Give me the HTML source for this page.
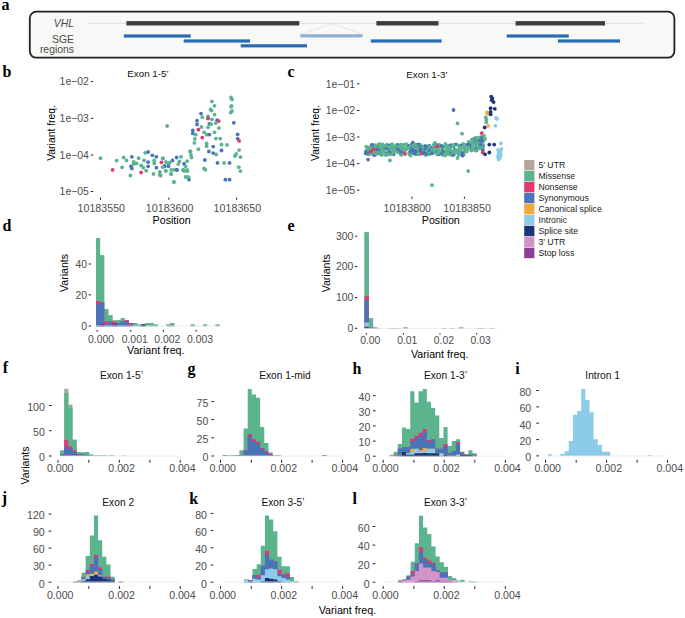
<!DOCTYPE html>
<html><head><meta charset="utf-8"><style>
html,body{margin:0;padding:0;background:#fff;width:685px;height:618px;overflow:hidden}
svg{display:block}
</style></head><body>
<svg width="685" height="618" viewBox="0 0 685 618">
<rect width="685" height="618" fill="#fff"/>
<text x="1.50" y="10.30" font-family="Liberation Serif, serif" font-size="16" text-anchor="start" fill="#000" font-weight="bold" font-style="normal" >a</text>
<rect x="29.8" y="11.7" width="644.6" height="46" rx="6.5" ry="6.5" fill="#f8f8f6" stroke="#222" stroke-width="1.8"/>
<text x="74.00" y="26.80" font-family="Liberation Sans, sans-serif" font-size="10.4" text-anchor="end" fill="#4a4a4a" font-weight="normal" font-style="italic" >VHL</text>
<text x="74.00" y="42.90" font-family="Liberation Sans, sans-serif" font-size="10.4" text-anchor="end" fill="#4a4a4a" font-weight="normal" font-style="normal" >SGE</text>
<text x="74.00" y="52.60" font-family="Liberation Sans, sans-serif" font-size="10.4" text-anchor="end" fill="#4a4a4a" font-weight="normal" font-style="normal" >regions</text>
<line x1="88.00" y1="23.30" x2="644.00" y2="23.30" stroke="#d8d8d8" stroke-width="0.8" />
<rect x="126.40" y="21.10" width="172.90" height="4.40" fill="#3d3d3d" />
<rect x="376.40" y="21.10" width="62.10" height="4.40" fill="#3d3d3d" />
<rect x="515.60" y="21.10" width="89.40" height="4.40" fill="#3d3d3d" />
<rect x="123.80" y="34.40" width="66.90" height="3.20" fill="#2b6cb0" />
<rect x="506.70" y="34.40" width="62.10" height="3.20" fill="#2b6cb0" />
<rect x="183.70" y="39.40" width="66.30" height="3.20" fill="#2b6cb0" />
<rect x="370.80" y="39.40" width="70.90" height="3.20" fill="#2b6cb0" />
<rect x="558.00" y="39.40" width="62.00" height="3.20" fill="#2b6cb0" />
<rect x="240.70" y="44.20" width="66.30" height="3.20" fill="#2b6cb0" />
<rect x="300.40" y="34.20" width="62.10" height="3.30" fill="#8fb2d6" />
<polyline points="300.5,34.3 332,23.6 362.3,34.3" fill="none" stroke="#c8c8c8" stroke-width="0.7" stroke-dasharray="1,1.2"/>
<text x="2.50" y="76.80" font-family="Liberation Serif, serif" font-size="16" text-anchor="start" fill="#000" font-weight="bold" font-style="normal" >b</text>
<text x="148.00" y="76.50" font-family="Liberation Sans, sans-serif" font-size="9.8" text-anchor="middle" fill="#111" font-weight="normal" font-style="normal" >Exon 1-5’</text>
<text x="88.80" y="85.30" font-family="Liberation Sans, sans-serif" font-size="10.4" text-anchor="end" fill="#4d4d4d" font-weight="normal" font-style="normal" >1e−02</text>
<line x1="90.80" y1="81.60" x2="93.20" y2="81.60" stroke="#222" stroke-width="1.0" />
<text x="88.80" y="122.10" font-family="Liberation Sans, sans-serif" font-size="10.4" text-anchor="end" fill="#4d4d4d" font-weight="normal" font-style="normal" >1e−03</text>
<line x1="90.80" y1="118.40" x2="93.20" y2="118.40" stroke="#222" stroke-width="1.0" />
<text x="88.80" y="158.80" font-family="Liberation Sans, sans-serif" font-size="10.4" text-anchor="end" fill="#4d4d4d" font-weight="normal" font-style="normal" >1e−04</text>
<line x1="90.80" y1="155.10" x2="93.20" y2="155.10" stroke="#222" stroke-width="1.0" />
<text x="88.80" y="195.20" font-family="Liberation Sans, sans-serif" font-size="10.4" text-anchor="end" fill="#4d4d4d" font-weight="normal" font-style="normal" >1e−05</text>
<line x1="90.80" y1="191.50" x2="93.20" y2="191.50" stroke="#222" stroke-width="1.0" />
<line x1="100.50" y1="197.60" x2="100.50" y2="199.80" stroke="#222" stroke-width="1.0" />
<text x="101.30" y="212.00" font-family="Liberation Sans, sans-serif" font-size="10.7" text-anchor="middle" fill="#4d4d4d" font-weight="normal" font-style="normal" >10183550</text>
<line x1="168.80" y1="197.60" x2="168.80" y2="199.80" stroke="#222" stroke-width="1.0" />
<text x="169.60" y="212.00" font-family="Liberation Sans, sans-serif" font-size="10.7" text-anchor="middle" fill="#4d4d4d" font-weight="normal" font-style="normal" >10183600</text>
<line x1="236.60" y1="197.60" x2="236.60" y2="199.80" stroke="#222" stroke-width="1.0" />
<text x="237.40" y="212.00" font-family="Liberation Sans, sans-serif" font-size="10.7" text-anchor="middle" fill="#4d4d4d" font-weight="normal" font-style="normal" >10183650</text>
<text x="171.60" y="223.80" font-family="Liberation Sans, sans-serif" font-size="10.7" text-anchor="middle" fill="#000" font-weight="normal" font-style="normal" >Position</text>
<text x="0.00" y="0.00" font-family="Liberation Sans, sans-serif" font-size="10.4" text-anchor="middle" fill="#000" font-weight="normal" font-style="normal" transform="translate(55.3,132.9) rotate(-90)">Variant freq.</text>
<circle cx="100.50" cy="158.20" r="1.9" fill="#5bb48e"/>
<circle cx="116.70" cy="160.70" r="1.9" fill="#5bb48e"/>
<circle cx="112.60" cy="169.90" r="1.9" fill="#e2376f"/>
<circle cx="122.10" cy="167.30" r="1.9" fill="#5bb48e"/>
<circle cx="123.60" cy="157.50" r="1.9" fill="#5bb48e"/>
<circle cx="126.50" cy="160.40" r="1.9" fill="#5bb48e"/>
<circle cx="131.90" cy="156.80" r="1.9" fill="#4a73b8"/>
<circle cx="130.90" cy="166.30" r="1.9" fill="#4a73b8"/>
<circle cx="131.90" cy="168.50" r="1.9" fill="#4a73b8"/>
<circle cx="133.80" cy="161.90" r="1.9" fill="#5bb48e"/>
<circle cx="136.70" cy="163.40" r="1.9" fill="#5bb48e"/>
<circle cx="138.60" cy="158.20" r="1.9" fill="#5bb48e"/>
<circle cx="133.50" cy="164.00" r="1.9" fill="#5bb48e"/>
<circle cx="130.40" cy="175.50" r="1.9" fill="#5bb48e"/>
<circle cx="141.10" cy="165.50" r="1.9" fill="#5bb48e"/>
<circle cx="143.30" cy="167.70" r="1.9" fill="#5bb48e"/>
<circle cx="141.10" cy="172.40" r="1.9" fill="#e2376f"/>
<circle cx="146.20" cy="170.70" r="1.9" fill="#5bb48e"/>
<circle cx="145.20" cy="152.80" r="1.9" fill="#5bb48e"/>
<circle cx="148.10" cy="152.00" r="1.9" fill="#4a73b8"/>
<circle cx="152.30" cy="155.30" r="1.9" fill="#4a73b8"/>
<circle cx="156.40" cy="156.80" r="1.9" fill="#4a73b8"/>
<circle cx="144.00" cy="160.40" r="1.9" fill="#5bb48e"/>
<circle cx="148.10" cy="162.20" r="1.9" fill="#4a73b8"/>
<circle cx="148.10" cy="166.30" r="1.9" fill="#4a73b8"/>
<circle cx="154.20" cy="160.40" r="1.9" fill="#5bb48e"/>
<circle cx="154.20" cy="163.40" r="1.9" fill="#5bb48e"/>
<circle cx="156.40" cy="167.70" r="1.9" fill="#4a73b8"/>
<circle cx="153.50" cy="173.90" r="1.9" fill="#5bb48e"/>
<circle cx="159.80" cy="175.00" r="1.9" fill="#5bb48e"/>
<circle cx="159.80" cy="172.00" r="1.9" fill="#5bb48e"/>
<circle cx="161.40" cy="162.30" r="1.9" fill="#e2376f"/>
<circle cx="163.00" cy="158.20" r="1.9" fill="#5bb48e"/>
<circle cx="164.50" cy="166.30" r="1.9" fill="#4a73b8"/>
<circle cx="165.90" cy="161.90" r="1.9" fill="#5bb48e"/>
<circle cx="168.80" cy="163.40" r="1.9" fill="#5bb48e"/>
<circle cx="168.50" cy="166.30" r="1.9" fill="#4a73b8"/>
<circle cx="165.60" cy="170.70" r="1.9" fill="#5bb48e"/>
<circle cx="172.50" cy="160.40" r="1.9" fill="#4a73b8"/>
<circle cx="176.60" cy="157.50" r="1.9" fill="#4a73b8"/>
<circle cx="176.90" cy="169.90" r="1.9" fill="#4a73b8"/>
<circle cx="171.00" cy="173.60" r="1.9" fill="#5bb48e"/>
<circle cx="174.00" cy="182.10" r="1.9" fill="#5bb48e"/>
<circle cx="181.00" cy="156.80" r="1.9" fill="#5bb48e"/>
<circle cx="178.30" cy="164.10" r="1.9" fill="#5bb48e"/>
<circle cx="184.00" cy="163.80" r="1.9" fill="#4a73b8"/>
<circle cx="183.40" cy="169.90" r="1.9" fill="#5bb48e"/>
<circle cx="187.10" cy="169.90" r="1.9" fill="#5bb48e"/>
<circle cx="187.10" cy="161.20" r="1.9" fill="#5bb48e"/>
<circle cx="190.00" cy="151.50" r="1.9" fill="#5bb48e"/>
<circle cx="188.50" cy="177.20" r="1.9" fill="#5bb48e"/>
<circle cx="189.00" cy="179.60" r="1.9" fill="#4a73b8"/>
<circle cx="162.60" cy="158.70" r="1.9" fill="#5bb48e"/>
<circle cx="167.90" cy="163.20" r="1.9" fill="#5bb48e"/>
<circle cx="169.90" cy="162.60" r="1.9" fill="#5bb48e"/>
<circle cx="179.40" cy="161.30" r="1.9" fill="#5bb48e"/>
<circle cx="185.60" cy="166.30" r="1.9" fill="#5bb48e"/>
<circle cx="164.60" cy="165.90" r="1.9" fill="#4a73b8"/>
<circle cx="162.60" cy="167.20" r="1.9" fill="#5bb48e"/>
<circle cx="171.20" cy="169.80" r="1.9" fill="#5bb48e"/>
<circle cx="173.80" cy="169.80" r="1.9" fill="#5bb48e"/>
<circle cx="165.90" cy="171.10" r="1.9" fill="#5bb48e"/>
<circle cx="184.30" cy="171.10" r="1.9" fill="#5bb48e"/>
<circle cx="171.20" cy="174.20" r="1.9" fill="#5bb48e"/>
<circle cx="160.70" cy="175.50" r="1.9" fill="#5bb48e"/>
<circle cx="185.60" cy="177.00" r="1.9" fill="#5bb48e"/>
<circle cx="191.50" cy="157.60" r="1.9" fill="#5bb48e"/>
<circle cx="191.00" cy="155.00" r="1.9" fill="#5bb48e"/>
<circle cx="167.20" cy="126.00" r="1.9" fill="#5bb48e"/>
<circle cx="211.90" cy="101.40" r="1.9" fill="#5bb48e"/>
<circle cx="214.50" cy="105.80" r="1.9" fill="#5bb48e"/>
<circle cx="210.60" cy="109.30" r="1.9" fill="#5bb48e"/>
<circle cx="211.50" cy="110.60" r="1.9" fill="#5bb48e"/>
<circle cx="214.50" cy="114.60" r="1.9" fill="#5bb48e"/>
<circle cx="201.00" cy="113.60" r="1.9" fill="#4a73b8"/>
<circle cx="202.30" cy="117.20" r="1.9" fill="#5bb48e"/>
<circle cx="208.00" cy="116.50" r="1.9" fill="#5bb48e"/>
<circle cx="208.00" cy="118.50" r="1.9" fill="#e2376f"/>
<circle cx="211.90" cy="119.40" r="1.9" fill="#5bb48e"/>
<circle cx="197.00" cy="120.70" r="1.9" fill="#4a73b8"/>
<circle cx="197.00" cy="124.40" r="1.9" fill="#4a73b8"/>
<circle cx="217.20" cy="120.20" r="1.9" fill="#4a73b8"/>
<circle cx="218.70" cy="121.10" r="1.9" fill="#e2376f"/>
<circle cx="215.80" cy="123.10" r="1.9" fill="#5bb48e"/>
<circle cx="209.30" cy="123.80" r="1.9" fill="#4a73b8"/>
<circle cx="211.00" cy="124.20" r="1.9" fill="#5bb48e"/>
<circle cx="201.40" cy="127.00" r="1.9" fill="#5bb48e"/>
<circle cx="208.00" cy="127.30" r="1.9" fill="#5bb48e"/>
<circle cx="198.40" cy="129.70" r="1.9" fill="#e2376f"/>
<circle cx="218.90" cy="128.10" r="1.9" fill="#5bb48e"/>
<circle cx="192.80" cy="130.30" r="1.9" fill="#4a73b8"/>
<circle cx="192.80" cy="133.40" r="1.9" fill="#4a73b8"/>
<circle cx="195.70" cy="134.70" r="1.9" fill="#5bb48e"/>
<circle cx="204.00" cy="132.30" r="1.9" fill="#5bb48e"/>
<circle cx="206.60" cy="134.70" r="1.9" fill="#5bb48e"/>
<circle cx="209.30" cy="134.70" r="1.9" fill="#4a73b8"/>
<circle cx="214.50" cy="132.30" r="1.9" fill="#5bb48e"/>
<circle cx="202.30" cy="137.60" r="1.9" fill="#e2376f"/>
<circle cx="194.80" cy="138.90" r="1.9" fill="#5bb48e"/>
<circle cx="215.80" cy="138.60" r="1.9" fill="#5bb48e"/>
<circle cx="220.20" cy="138.60" r="1.9" fill="#5bb48e"/>
<circle cx="231.00" cy="97.50" r="1.9" fill="#5bb48e"/>
<circle cx="232.00" cy="99.50" r="1.9" fill="#5bb48e"/>
<circle cx="231.60" cy="106.00" r="1.9" fill="#5bb48e"/>
<circle cx="231.00" cy="106.70" r="1.9" fill="#5bb48e"/>
<circle cx="232.00" cy="111.00" r="1.9" fill="#5bb48e"/>
<circle cx="230.70" cy="112.60" r="1.9" fill="#5bb48e"/>
<circle cx="233.80" cy="122.80" r="1.9" fill="#4a73b8"/>
<circle cx="237.60" cy="134.30" r="1.9" fill="#4a73b8"/>
<circle cx="237.60" cy="138.60" r="1.9" fill="#4a73b8"/>
<circle cx="239.10" cy="140.90" r="1.9" fill="#e2376f"/>
<circle cx="194.40" cy="142.90" r="1.9" fill="#5bb48e"/>
<circle cx="206.60" cy="143.50" r="1.9" fill="#5bb48e"/>
<circle cx="206.60" cy="146.20" r="1.9" fill="#5bb48e"/>
<circle cx="213.20" cy="146.60" r="1.9" fill="#4a73b8"/>
<circle cx="221.50" cy="144.50" r="1.9" fill="#5bb48e"/>
<circle cx="227.00" cy="144.90" r="1.9" fill="#5bb48e"/>
<circle cx="198.40" cy="149.20" r="1.9" fill="#5bb48e"/>
<circle cx="190.50" cy="151.40" r="1.9" fill="#5bb48e"/>
<circle cx="208.90" cy="151.40" r="1.9" fill="#4a73b8"/>
<circle cx="213.20" cy="153.10" r="1.9" fill="#4a73b8"/>
<circle cx="216.20" cy="154.40" r="1.9" fill="#5bb48e"/>
<circle cx="221.50" cy="150.50" r="1.9" fill="#4a73b8"/>
<circle cx="239.10" cy="150.10" r="1.9" fill="#5bb48e"/>
<circle cx="236.20" cy="154.00" r="1.9" fill="#5bb48e"/>
<circle cx="234.90" cy="156.00" r="1.9" fill="#5bb48e"/>
<circle cx="240.40" cy="157.10" r="1.9" fill="#5bb48e"/>
<circle cx="204.90" cy="160.00" r="1.9" fill="#4a73b8"/>
<circle cx="217.50" cy="162.90" r="1.9" fill="#4a73b8"/>
<circle cx="224.10" cy="162.90" r="1.9" fill="#5bb48e"/>
<circle cx="229.60" cy="162.90" r="1.9" fill="#4a73b8"/>
<circle cx="204.00" cy="168.50" r="1.9" fill="#5bb48e"/>
<circle cx="205.30" cy="169.80" r="1.9" fill="#5bb48e"/>
<circle cx="238.80" cy="167.20" r="1.9" fill="#5bb48e"/>
<circle cx="240.40" cy="171.10" r="1.9" fill="#5bb48e"/>
<circle cx="176.80" cy="169.80" r="1.9" fill="#4a73b8"/>
<circle cx="183.00" cy="169.80" r="1.9" fill="#5bb48e"/>
<circle cx="187.60" cy="171.10" r="1.9" fill="#5bb48e"/>
<circle cx="188.20" cy="177.30" r="1.9" fill="#5bb48e"/>
<circle cx="173.80" cy="182.00" r="1.9" fill="#5bb48e"/>
<circle cx="225.40" cy="179.70" r="1.9" fill="#4a73b8"/>
<circle cx="229.60" cy="179.70" r="1.9" fill="#4a73b8"/>
<text x="287.50" y="77.30" font-family="Liberation Serif, serif" font-size="16" text-anchor="start" fill="#000" font-weight="bold" font-style="normal" >c</text>
<text x="427.00" y="77.60" font-family="Liberation Sans, sans-serif" font-size="9.8" text-anchor="middle" fill="#111" font-weight="normal" font-style="normal" >Exon 1-3’</text>
<text x="355.00" y="87.50" font-family="Liberation Sans, sans-serif" font-size="10.4" text-anchor="end" fill="#4d4d4d" font-weight="normal" font-style="normal" >1e−01</text>
<line x1="357.00" y1="83.80" x2="359.40" y2="83.80" stroke="#222" stroke-width="1.0" />
<text x="355.00" y="114.20" font-family="Liberation Sans, sans-serif" font-size="10.4" text-anchor="end" fill="#4d4d4d" font-weight="normal" font-style="normal" >1e−02</text>
<line x1="357.00" y1="110.50" x2="359.40" y2="110.50" stroke="#222" stroke-width="1.0" />
<text x="355.00" y="140.70" font-family="Liberation Sans, sans-serif" font-size="10.4" text-anchor="end" fill="#4d4d4d" font-weight="normal" font-style="normal" >1e−03</text>
<line x1="357.00" y1="137.00" x2="359.40" y2="137.00" stroke="#222" stroke-width="1.0" />
<text x="355.00" y="167.30" font-family="Liberation Sans, sans-serif" font-size="10.4" text-anchor="end" fill="#4d4d4d" font-weight="normal" font-style="normal" >1e−04</text>
<line x1="357.00" y1="163.60" x2="359.40" y2="163.60" stroke="#222" stroke-width="1.0" />
<text x="355.00" y="193.90" font-family="Liberation Sans, sans-serif" font-size="10.4" text-anchor="end" fill="#4d4d4d" font-weight="normal" font-style="normal" >1e−05</text>
<line x1="357.00" y1="190.20" x2="359.40" y2="190.20" stroke="#222" stroke-width="1.0" />
<line x1="411.90" y1="196.60" x2="411.90" y2="198.80" stroke="#222" stroke-width="1.0" />
<text x="407.30" y="212.00" font-family="Liberation Sans, sans-serif" font-size="10.7" text-anchor="middle" fill="#4d4d4d" font-weight="normal" font-style="normal" >10183800</text>
<line x1="464.40" y1="196.60" x2="464.40" y2="198.80" stroke="#222" stroke-width="1.0" />
<text x="467.10" y="212.00" font-family="Liberation Sans, sans-serif" font-size="10.7" text-anchor="middle" fill="#4d4d4d" font-weight="normal" font-style="normal" >10183850</text>
<text x="440.80" y="223.80" font-family="Liberation Sans, sans-serif" font-size="10.7" text-anchor="middle" fill="#000" font-weight="normal" font-style="normal" >Position</text>
<text x="0.00" y="0.00" font-family="Liberation Sans, sans-serif" font-size="10.4" text-anchor="middle" fill="#000" font-weight="normal" font-style="normal" transform="translate(319,133) rotate(-90)">Variant freq.</text>
<circle cx="418.33" cy="154.17" r="1.9" fill="#5bb48e"/>
<circle cx="424.93" cy="146.03" r="1.9" fill="#5bb48e"/>
<circle cx="439.46" cy="145.04" r="1.9" fill="#5bb48e"/>
<circle cx="375.29" cy="151.63" r="1.9" fill="#5bb48e"/>
<circle cx="481.38" cy="138.73" r="1.9" fill="#5bb48e"/>
<circle cx="366.29" cy="146.54" r="1.9" fill="#5bb48e"/>
<circle cx="393.29" cy="149.10" r="1.9" fill="#5bb48e"/>
<circle cx="464.75" cy="150.38" r="1.9" fill="#5bb48e"/>
<circle cx="443.33" cy="147.06" r="1.9" fill="#e2376f"/>
<circle cx="482.99" cy="144.61" r="1.9" fill="#5bb48e"/>
<circle cx="391.83" cy="144.77" r="1.9" fill="#4a73b8"/>
<circle cx="412.15" cy="148.25" r="1.9" fill="#4a73b8"/>
<circle cx="465.33" cy="145.16" r="1.9" fill="#4a73b8"/>
<circle cx="420.43" cy="144.95" r="1.9" fill="#5bb48e"/>
<circle cx="373.19" cy="152.56" r="1.9" fill="#5bb48e"/>
<circle cx="374.87" cy="154.60" r="1.9" fill="#4a73b8"/>
<circle cx="378.54" cy="145.11" r="1.9" fill="#5bb48e"/>
<circle cx="459.35" cy="150.15" r="1.9" fill="#5bb48e"/>
<circle cx="387.19" cy="145.44" r="1.9" fill="#5bb48e"/>
<circle cx="378.36" cy="146.34" r="1.9" fill="#5bb48e"/>
<circle cx="480.04" cy="139.37" r="1.9" fill="#4a73b8"/>
<circle cx="389.57" cy="153.40" r="1.9" fill="#5bb48e"/>
<circle cx="376.44" cy="150.21" r="1.9" fill="#4a73b8"/>
<circle cx="403.65" cy="144.81" r="1.9" fill="#5bb48e"/>
<circle cx="433.85" cy="150.61" r="1.9" fill="#5bb48e"/>
<circle cx="418.43" cy="152.51" r="1.9" fill="#5bb48e"/>
<circle cx="432.87" cy="150.45" r="1.9" fill="#4a73b8"/>
<circle cx="461.82" cy="146.09" r="1.9" fill="#4a73b8"/>
<circle cx="476.41" cy="150.52" r="1.9" fill="#4a73b8"/>
<circle cx="436.32" cy="145.14" r="1.9" fill="#5bb48e"/>
<circle cx="479.06" cy="145.97" r="1.9" fill="#5bb48e"/>
<circle cx="462.52" cy="147.23" r="1.9" fill="#5bb48e"/>
<circle cx="450.22" cy="146.51" r="1.9" fill="#5bb48e"/>
<circle cx="465.94" cy="145.69" r="1.9" fill="#4a73b8"/>
<circle cx="388.77" cy="146.96" r="1.9" fill="#5bb48e"/>
<circle cx="371.69" cy="148.12" r="1.9" fill="#5bb48e"/>
<circle cx="380.16" cy="153.80" r="1.9" fill="#4a73b8"/>
<circle cx="442.67" cy="150.43" r="1.9" fill="#5bb48e"/>
<circle cx="368.67" cy="154.12" r="1.9" fill="#4a73b8"/>
<circle cx="479.07" cy="144.92" r="1.9" fill="#5bb48e"/>
<circle cx="451.43" cy="154.99" r="1.9" fill="#5bb48e"/>
<circle cx="429.49" cy="153.90" r="1.9" fill="#4a73b8"/>
<circle cx="448.24" cy="154.07" r="1.9" fill="#5bb48e"/>
<circle cx="446.03" cy="151.61" r="1.9" fill="#4a73b8"/>
<circle cx="414.14" cy="153.50" r="1.9" fill="#5bb48e"/>
<circle cx="438.87" cy="150.41" r="1.9" fill="#5bb48e"/>
<circle cx="374.04" cy="154.93" r="1.9" fill="#4a73b8"/>
<circle cx="451.16" cy="152.09" r="1.9" fill="#5bb48e"/>
<circle cx="416.92" cy="144.92" r="1.9" fill="#4a73b8"/>
<circle cx="368.04" cy="150.01" r="1.9" fill="#5bb48e"/>
<circle cx="447.60" cy="150.76" r="1.9" fill="#4a73b8"/>
<circle cx="394.94" cy="147.31" r="1.9" fill="#5bb48e"/>
<circle cx="388.61" cy="153.96" r="1.9" fill="#5bb48e"/>
<circle cx="417.09" cy="146.75" r="1.9" fill="#5bb48e"/>
<circle cx="415.78" cy="154.06" r="1.9" fill="#4a73b8"/>
<circle cx="410.25" cy="147.48" r="1.9" fill="#5bb48e"/>
<circle cx="423.58" cy="153.34" r="1.9" fill="#4a73b8"/>
<circle cx="477.55" cy="138.52" r="1.9" fill="#5bb48e"/>
<circle cx="397.24" cy="148.55" r="1.9" fill="#5bb48e"/>
<circle cx="423.27" cy="153.23" r="1.9" fill="#4a73b8"/>
<circle cx="418.34" cy="144.35" r="1.9" fill="#4a73b8"/>
<circle cx="369.44" cy="150.66" r="1.9" fill="#5bb48e"/>
<circle cx="458.69" cy="145.49" r="1.9" fill="#5bb48e"/>
<circle cx="367.44" cy="147.83" r="1.9" fill="#5bb48e"/>
<circle cx="370.09" cy="149.28" r="1.9" fill="#5bb48e"/>
<circle cx="442.45" cy="154.54" r="1.9" fill="#4a73b8"/>
<circle cx="388.22" cy="145.97" r="1.9" fill="#5bb48e"/>
<circle cx="420.69" cy="145.97" r="1.9" fill="#5bb48e"/>
<circle cx="405.64" cy="149.72" r="1.9" fill="#5bb48e"/>
<circle cx="454.49" cy="152.71" r="1.9" fill="#4a73b8"/>
<circle cx="374.88" cy="154.74" r="1.9" fill="#4a73b8"/>
<circle cx="379.96" cy="150.88" r="1.9" fill="#4a73b8"/>
<circle cx="409.34" cy="153.67" r="1.9" fill="#4a73b8"/>
<circle cx="476.87" cy="145.98" r="1.9" fill="#5bb48e"/>
<circle cx="450.41" cy="151.06" r="1.9" fill="#4a73b8"/>
<circle cx="389.88" cy="160.43" r="1.9" fill="#5bb48e"/>
<circle cx="458.60" cy="154.01" r="1.9" fill="#4a73b8"/>
<circle cx="405.97" cy="148.85" r="1.9" fill="#5bb48e"/>
<circle cx="455.92" cy="144.31" r="1.9" fill="#4a73b8"/>
<circle cx="372.12" cy="145.90" r="1.9" fill="#5bb48e"/>
<circle cx="458.26" cy="145.64" r="1.9" fill="#5bb48e"/>
<circle cx="450.60" cy="151.58" r="1.9" fill="#4a73b8"/>
<circle cx="423.12" cy="148.15" r="1.9" fill="#5bb48e"/>
<circle cx="390.85" cy="147.19" r="1.9" fill="#4a73b8"/>
<circle cx="440.53" cy="153.28" r="1.9" fill="#5bb48e"/>
<circle cx="401.59" cy="153.30" r="1.9" fill="#4a73b8"/>
<circle cx="389.28" cy="154.28" r="1.9" fill="#5bb48e"/>
<circle cx="388.42" cy="149.53" r="1.9" fill="#5bb48e"/>
<circle cx="367.80" cy="149.27" r="1.9" fill="#5bb48e"/>
<circle cx="412.17" cy="150.19" r="1.9" fill="#5bb48e"/>
<circle cx="446.73" cy="149.93" r="1.9" fill="#5bb48e"/>
<circle cx="478.37" cy="142.58" r="1.9" fill="#5bb48e"/>
<circle cx="416.11" cy="153.91" r="1.9" fill="#5bb48e"/>
<circle cx="402.25" cy="150.80" r="1.9" fill="#4a73b8"/>
<circle cx="379.91" cy="144.25" r="1.9" fill="#5bb48e"/>
<circle cx="391.54" cy="147.54" r="1.9" fill="#5bb48e"/>
<circle cx="438.25" cy="152.04" r="1.9" fill="#5bb48e"/>
<circle cx="425.25" cy="146.18" r="1.9" fill="#5bb48e"/>
<circle cx="416.48" cy="148.55" r="1.9" fill="#5bb48e"/>
<circle cx="383.51" cy="150.94" r="1.9" fill="#5bb48e"/>
<circle cx="427.52" cy="154.00" r="1.9" fill="#5bb48e"/>
<circle cx="466.45" cy="150.94" r="1.9" fill="#4a73b8"/>
<circle cx="471.92" cy="143.32" r="1.9" fill="#4a73b8"/>
<circle cx="390.46" cy="151.13" r="1.9" fill="#5bb48e"/>
<circle cx="450.96" cy="145.07" r="1.9" fill="#4a73b8"/>
<circle cx="414.67" cy="145.39" r="1.9" fill="#5bb48e"/>
<circle cx="446.04" cy="146.21" r="1.9" fill="#4a73b8"/>
<circle cx="472.95" cy="143.98" r="1.9" fill="#5bb48e"/>
<circle cx="424.68" cy="149.53" r="1.9" fill="#4a73b8"/>
<circle cx="386.99" cy="145.17" r="1.9" fill="#5bb48e"/>
<circle cx="430.15" cy="150.26" r="1.9" fill="#5bb48e"/>
<circle cx="386.46" cy="153.24" r="1.9" fill="#4a73b8"/>
<circle cx="474.80" cy="138.39" r="1.9" fill="#4a73b8"/>
<circle cx="419.49" cy="147.60" r="1.9" fill="#5bb48e"/>
<circle cx="425.82" cy="150.61" r="1.9" fill="#5bb48e"/>
<circle cx="447.92" cy="145.99" r="1.9" fill="#5bb48e"/>
<circle cx="452.48" cy="146.15" r="1.9" fill="#5bb48e"/>
<circle cx="425.49" cy="153.83" r="1.9" fill="#4a73b8"/>
<circle cx="448.36" cy="146.70" r="1.9" fill="#5bb48e"/>
<circle cx="424.51" cy="146.54" r="1.9" fill="#4a73b8"/>
<circle cx="395.23" cy="149.26" r="1.9" fill="#4a73b8"/>
<circle cx="412.77" cy="142.56" r="1.9" fill="#4a73b8"/>
<circle cx="447.18" cy="152.42" r="1.9" fill="#5bb48e"/>
<circle cx="450.49" cy="147.76" r="1.9" fill="#5bb48e"/>
<circle cx="365.76" cy="151.81" r="1.9" fill="#5bb48e"/>
<circle cx="392.12" cy="147.67" r="1.9" fill="#5bb48e"/>
<circle cx="432.28" cy="148.29" r="1.9" fill="#e2376f"/>
<circle cx="440.93" cy="152.38" r="1.9" fill="#4a73b8"/>
<circle cx="367.22" cy="152.56" r="1.9" fill="#5bb48e"/>
<circle cx="412.29" cy="146.15" r="1.9" fill="#5bb48e"/>
<circle cx="376.22" cy="153.96" r="1.9" fill="#5bb48e"/>
<circle cx="424.93" cy="146.36" r="1.9" fill="#5bb48e"/>
<circle cx="482.92" cy="146.30" r="1.9" fill="#5bb48e"/>
<circle cx="435.61" cy="144.50" r="1.9" fill="#4a73b8"/>
<circle cx="383.53" cy="145.86" r="1.9" fill="#5bb48e"/>
<circle cx="437.23" cy="154.40" r="1.9" fill="#5bb48e"/>
<circle cx="427.18" cy="148.02" r="1.9" fill="#5bb48e"/>
<circle cx="442.46" cy="147.12" r="1.9" fill="#4a73b8"/>
<circle cx="399.73" cy="146.70" r="1.9" fill="#5bb48e"/>
<circle cx="383.13" cy="148.29" r="1.9" fill="#4a73b8"/>
<circle cx="453.56" cy="154.88" r="1.9" fill="#4a73b8"/>
<circle cx="373.25" cy="145.38" r="1.9" fill="#4a73b8"/>
<circle cx="393.50" cy="154.31" r="1.9" fill="#4a73b8"/>
<circle cx="420.23" cy="151.45" r="1.9" fill="#4a73b8"/>
<circle cx="436.33" cy="150.87" r="1.9" fill="#5bb48e"/>
<circle cx="388.74" cy="149.81" r="1.9" fill="#5bb48e"/>
<circle cx="417.20" cy="149.01" r="1.9" fill="#5bb48e"/>
<circle cx="433.79" cy="152.56" r="1.9" fill="#5bb48e"/>
<circle cx="483.22" cy="140.82" r="1.9" fill="#5bb48e"/>
<circle cx="470.73" cy="147.93" r="1.9" fill="#5bb48e"/>
<circle cx="396.81" cy="150.21" r="1.9" fill="#5bb48e"/>
<circle cx="439.84" cy="146.09" r="1.9" fill="#5bb48e"/>
<circle cx="481.09" cy="139.06" r="1.9" fill="#4a73b8"/>
<circle cx="369.20" cy="147.69" r="1.9" fill="#5bb48e"/>
<circle cx="438.68" cy="149.96" r="1.9" fill="#5bb48e"/>
<circle cx="374.79" cy="150.06" r="1.9" fill="#5bb48e"/>
<circle cx="408.91" cy="146.32" r="1.9" fill="#5bb48e"/>
<circle cx="453.13" cy="144.82" r="1.9" fill="#5bb48e"/>
<circle cx="460.79" cy="152.46" r="1.9" fill="#5bb48e"/>
<circle cx="415.00" cy="152.91" r="1.9" fill="#5bb48e"/>
<circle cx="442.29" cy="147.20" r="1.9" fill="#4a73b8"/>
<circle cx="474.08" cy="143.07" r="1.9" fill="#5bb48e"/>
<circle cx="468.65" cy="141.93" r="1.9" fill="#5bb48e"/>
<circle cx="422.20" cy="147.29" r="1.9" fill="#4a73b8"/>
<circle cx="373.55" cy="151.28" r="1.9" fill="#5bb48e"/>
<circle cx="400.65" cy="151.63" r="1.9" fill="#5bb48e"/>
<circle cx="381.51" cy="151.99" r="1.9" fill="#5bb48e"/>
<circle cx="378.47" cy="150.26" r="1.9" fill="#4a73b8"/>
<circle cx="476.35" cy="148.45" r="1.9" fill="#5bb48e"/>
<circle cx="460.06" cy="147.49" r="1.9" fill="#5bb48e"/>
<circle cx="475.73" cy="144.26" r="1.9" fill="#5bb48e"/>
<circle cx="407.73" cy="148.26" r="1.9" fill="#5bb48e"/>
<circle cx="431.59" cy="149.95" r="1.9" fill="#4a73b8"/>
<circle cx="431.47" cy="152.35" r="1.9" fill="#4a73b8"/>
<circle cx="397.99" cy="149.67" r="1.9" fill="#5bb48e"/>
<circle cx="432.03" cy="153.29" r="1.9" fill="#5bb48e"/>
<circle cx="460.21" cy="150.01" r="1.9" fill="#4a73b8"/>
<circle cx="374.50" cy="152.11" r="1.9" fill="#4a73b8"/>
<circle cx="374.58" cy="145.58" r="1.9" fill="#4a73b8"/>
<circle cx="441.73" cy="146.42" r="1.9" fill="#4a73b8"/>
<circle cx="426.56" cy="148.34" r="1.9" fill="#5bb48e"/>
<circle cx="479.72" cy="142.46" r="1.9" fill="#5bb48e"/>
<circle cx="450.29" cy="154.06" r="1.9" fill="#5bb48e"/>
<circle cx="462.82" cy="153.39" r="1.9" fill="#4a73b8"/>
<circle cx="463.73" cy="154.72" r="1.9" fill="#5bb48e"/>
<circle cx="449.00" cy="148.64" r="1.9" fill="#5bb48e"/>
<circle cx="381.90" cy="154.90" r="1.9" fill="#5bb48e"/>
<circle cx="384.45" cy="148.67" r="1.9" fill="#5bb48e"/>
<circle cx="479.90" cy="139.50" r="1.9" fill="#5bb48e"/>
<circle cx="441.61" cy="145.97" r="1.9" fill="#5bb48e"/>
<circle cx="419.09" cy="154.00" r="1.9" fill="#5bb48e"/>
<circle cx="377.43" cy="146.39" r="1.9" fill="#5bb48e"/>
<circle cx="449.85" cy="146.46" r="1.9" fill="#5bb48e"/>
<circle cx="397.95" cy="152.33" r="1.9" fill="#5bb48e"/>
<circle cx="429.74" cy="149.27" r="1.9" fill="#5bb48e"/>
<circle cx="470.10" cy="145.05" r="1.9" fill="#5bb48e"/>
<circle cx="429.63" cy="146.69" r="1.9" fill="#5bb48e"/>
<circle cx="477.25" cy="141.88" r="1.9" fill="#5bb48e"/>
<circle cx="425.88" cy="154.89" r="1.9" fill="#5bb48e"/>
<circle cx="392.78" cy="149.20" r="1.9" fill="#5bb48e"/>
<circle cx="459.32" cy="150.67" r="1.9" fill="#5bb48e"/>
<circle cx="383.17" cy="146.85" r="1.9" fill="#4a73b8"/>
<circle cx="425.92" cy="154.92" r="1.9" fill="#5bb48e"/>
<circle cx="428.11" cy="152.47" r="1.9" fill="#5bb48e"/>
<circle cx="462.25" cy="153.04" r="1.9" fill="#5bb48e"/>
<circle cx="396.62" cy="145.07" r="1.9" fill="#5bb48e"/>
<circle cx="420.27" cy="149.81" r="1.9" fill="#5bb48e"/>
<circle cx="466.52" cy="151.50" r="1.9" fill="#5bb48e"/>
<circle cx="473.59" cy="149.63" r="1.9" fill="#5bb48e"/>
<circle cx="429.16" cy="145.73" r="1.9" fill="#4a73b8"/>
<circle cx="401.56" cy="144.84" r="1.9" fill="#5bb48e"/>
<circle cx="420.10" cy="147.96" r="1.9" fill="#4a73b8"/>
<circle cx="377.08" cy="149.08" r="1.9" fill="#4a73b8"/>
<circle cx="463.24" cy="144.01" r="1.9" fill="#5bb48e"/>
<circle cx="448.99" cy="150.21" r="1.9" fill="#5bb48e"/>
<circle cx="365.75" cy="151.43" r="1.9" fill="#5bb48e"/>
<circle cx="399.06" cy="149.94" r="1.9" fill="#5bb48e"/>
<circle cx="404.65" cy="151.33" r="1.9" fill="#5bb48e"/>
<circle cx="388.29" cy="147.62" r="1.9" fill="#4a73b8"/>
<circle cx="431.47" cy="147.65" r="1.9" fill="#4a73b8"/>
<circle cx="375.48" cy="145.04" r="1.9" fill="#5bb48e"/>
<circle cx="448.79" cy="148.43" r="1.9" fill="#4a73b8"/>
<circle cx="435.04" cy="146.49" r="1.9" fill="#5bb48e"/>
<circle cx="379.27" cy="144.80" r="1.9" fill="#4a73b8"/>
<circle cx="415.31" cy="151.12" r="1.9" fill="#4a73b8"/>
<circle cx="462.21" cy="147.65" r="1.9" fill="#5bb48e"/>
<circle cx="366.34" cy="152.29" r="1.9" fill="#4a73b8"/>
<circle cx="458.47" cy="150.69" r="1.9" fill="#5bb48e"/>
<circle cx="403.89" cy="151.16" r="1.9" fill="#5bb48e"/>
<circle cx="409.44" cy="152.67" r="1.9" fill="#4a73b8"/>
<circle cx="437.26" cy="152.43" r="1.9" fill="#4a73b8"/>
<circle cx="429.74" cy="149.50" r="1.9" fill="#5bb48e"/>
<circle cx="449.40" cy="146.91" r="1.9" fill="#5bb48e"/>
<circle cx="449.63" cy="146.17" r="1.9" fill="#4a73b8"/>
<circle cx="439.13" cy="144.92" r="1.9" fill="#5bb48e"/>
<circle cx="433.10" cy="147.62" r="1.9" fill="#4a73b8"/>
<circle cx="407.48" cy="145.36" r="1.9" fill="#4a73b8"/>
<circle cx="380.64" cy="144.56" r="1.9" fill="#5bb48e"/>
<circle cx="395.96" cy="148.12" r="1.9" fill="#4a73b8"/>
<circle cx="461.78" cy="145.35" r="1.9" fill="#4a73b8"/>
<circle cx="398.84" cy="149.80" r="1.9" fill="#4a73b8"/>
<circle cx="386.58" cy="144.84" r="1.9" fill="#5bb48e"/>
<circle cx="385.93" cy="154.71" r="1.9" fill="#4a73b8"/>
<circle cx="442.85" cy="151.38" r="1.9" fill="#4a73b8"/>
<circle cx="409.92" cy="152.84" r="1.9" fill="#5bb48e"/>
<circle cx="388.24" cy="145.57" r="1.9" fill="#5bb48e"/>
<circle cx="432.27" cy="149.72" r="1.9" fill="#5bb48e"/>
<circle cx="432.10" cy="151.06" r="1.9" fill="#5bb48e"/>
<circle cx="444.35" cy="154.55" r="1.9" fill="#5bb48e"/>
<circle cx="420.42" cy="150.86" r="1.9" fill="#4a73b8"/>
<circle cx="454.71" cy="149.34" r="1.9" fill="#4a73b8"/>
<circle cx="464.25" cy="145.39" r="1.9" fill="#5bb48e"/>
<circle cx="472.22" cy="146.01" r="1.9" fill="#5bb48e"/>
<circle cx="472.11" cy="139.73" r="1.9" fill="#4a73b8"/>
<circle cx="471.62" cy="147.22" r="1.9" fill="#4a73b8"/>
<circle cx="400.77" cy="144.77" r="1.9" fill="#5bb48e"/>
<circle cx="417.69" cy="148.36" r="1.9" fill="#5bb48e"/>
<circle cx="447.19" cy="146.63" r="1.9" fill="#5bb48e"/>
<circle cx="411.57" cy="144.75" r="1.9" fill="#4a73b8"/>
<circle cx="479.51" cy="148.31" r="1.9" fill="#5bb48e"/>
<circle cx="460.33" cy="152.21" r="1.9" fill="#5bb48e"/>
<circle cx="472.01" cy="149.69" r="1.9" fill="#5bb48e"/>
<circle cx="428.47" cy="151.81" r="1.9" fill="#5bb48e"/>
<circle cx="393.53" cy="147.57" r="1.9" fill="#5bb48e"/>
<circle cx="471.02" cy="144.82" r="1.9" fill="#5bb48e"/>
<circle cx="434.18" cy="144.34" r="1.9" fill="#4a73b8"/>
<circle cx="401.13" cy="154.27" r="1.9" fill="#4a73b8"/>
<circle cx="420.74" cy="147.25" r="1.9" fill="#4a73b8"/>
<circle cx="471.22" cy="150.56" r="1.9" fill="#5bb48e"/>
<circle cx="420.73" cy="153.68" r="1.9" fill="#e2376f"/>
<circle cx="388.54" cy="146.11" r="1.9" fill="#4a73b8"/>
<circle cx="370.45" cy="152.13" r="1.9" fill="#5bb48e"/>
<circle cx="471.64" cy="145.42" r="1.9" fill="#4a73b8"/>
<circle cx="476.10" cy="137.94" r="1.9" fill="#5bb48e"/>
<circle cx="401.05" cy="146.16" r="1.9" fill="#5bb48e"/>
<circle cx="392.52" cy="152.70" r="1.9" fill="#5bb48e"/>
<circle cx="443.28" cy="147.40" r="1.9" fill="#5bb48e"/>
<circle cx="391.75" cy="154.19" r="1.9" fill="#5bb48e"/>
<circle cx="397.44" cy="144.99" r="1.9" fill="#4a73b8"/>
<circle cx="416.90" cy="149.84" r="1.9" fill="#5bb48e"/>
<circle cx="435.86" cy="146.76" r="1.9" fill="#4a73b8"/>
<circle cx="374.87" cy="152.31" r="1.9" fill="#5bb48e"/>
<circle cx="397.71" cy="146.05" r="1.9" fill="#4a73b8"/>
<circle cx="482.04" cy="140.98" r="1.9" fill="#4a73b8"/>
<circle cx="410.28" cy="146.98" r="1.9" fill="#5bb48e"/>
<circle cx="441.25" cy="151.24" r="1.9" fill="#4a73b8"/>
<circle cx="425.99" cy="153.30" r="1.9" fill="#4a73b8"/>
<circle cx="426.44" cy="149.50" r="1.9" fill="#5bb48e"/>
<circle cx="457.28" cy="150.69" r="1.9" fill="#5bb48e"/>
<circle cx="416.91" cy="152.65" r="1.9" fill="#4a73b8"/>
<circle cx="392.58" cy="146.43" r="1.9" fill="#5bb48e"/>
<circle cx="423.88" cy="150.57" r="1.9" fill="#4a73b8"/>
<circle cx="432.64" cy="150.48" r="1.9" fill="#5bb48e"/>
<circle cx="423.54" cy="148.86" r="1.9" fill="#5bb48e"/>
<circle cx="459.52" cy="153.98" r="1.9" fill="#5bb48e"/>
<circle cx="429.15" cy="146.62" r="1.9" fill="#5bb48e"/>
<circle cx="401.51" cy="147.46" r="1.9" fill="#5bb48e"/>
<circle cx="427.03" cy="150.48" r="1.9" fill="#5bb48e"/>
<circle cx="462.15" cy="146.80" r="1.9" fill="#5bb48e"/>
<circle cx="446.69" cy="152.65" r="1.9" fill="#5bb48e"/>
<circle cx="413.36" cy="146.38" r="1.9" fill="#4a73b8"/>
<circle cx="369.51" cy="152.58" r="1.9" fill="#4a73b8"/>
<circle cx="381.70" cy="152.19" r="1.9" fill="#5bb48e"/>
<circle cx="393.13" cy="151.58" r="1.9" fill="#5bb48e"/>
<circle cx="411.26" cy="148.67" r="1.9" fill="#5bb48e"/>
<circle cx="368.58" cy="150.64" r="1.9" fill="#5bb48e"/>
<circle cx="394.63" cy="146.66" r="1.9" fill="#5bb48e"/>
<circle cx="475.46" cy="141.99" r="1.9" fill="#4a73b8"/>
<circle cx="437.20" cy="148.43" r="1.9" fill="#5bb48e"/>
<circle cx="371.46" cy="151.70" r="1.9" fill="#4a73b8"/>
<circle cx="434.79" cy="143.01" r="1.9" fill="#5bb48e"/>
<circle cx="411.26" cy="148.19" r="1.9" fill="#4a73b8"/>
<circle cx="390.13" cy="146.02" r="1.9" fill="#5bb48e"/>
<circle cx="384.00" cy="146.36" r="1.9" fill="#5bb48e"/>
<circle cx="401.22" cy="154.93" r="1.9" fill="#5bb48e"/>
<circle cx="467.16" cy="146.35" r="1.9" fill="#5bb48e"/>
<circle cx="446.77" cy="147.02" r="1.9" fill="#5bb48e"/>
<circle cx="386.16" cy="148.32" r="1.9" fill="#4a73b8"/>
<circle cx="449.61" cy="147.97" r="1.9" fill="#5bb48e"/>
<circle cx="475.96" cy="147.97" r="1.9" fill="#4a73b8"/>
<circle cx="472.44" cy="143.17" r="1.9" fill="#5bb48e"/>
<circle cx="374.40" cy="146.37" r="1.9" fill="#5bb48e"/>
<circle cx="371.03" cy="146.88" r="1.9" fill="#5bb48e"/>
<circle cx="382.45" cy="144.35" r="1.9" fill="#5bb48e"/>
<circle cx="414.96" cy="145.50" r="1.9" fill="#4a73b8"/>
<circle cx="395.49" cy="151.33" r="1.9" fill="#5bb48e"/>
<circle cx="388.87" cy="151.84" r="1.9" fill="#5bb48e"/>
<circle cx="410.49" cy="155.61" r="1.9" fill="#5bb48e"/>
<circle cx="399.26" cy="146.37" r="1.9" fill="#5bb48e"/>
<circle cx="367.42" cy="150.92" r="1.9" fill="#4a73b8"/>
<circle cx="480.60" cy="144.88" r="1.9" fill="#4a73b8"/>
<circle cx="390.23" cy="151.33" r="1.9" fill="#4a73b8"/>
<circle cx="467.84" cy="149.12" r="1.9" fill="#5bb48e"/>
<circle cx="415.40" cy="144.66" r="1.9" fill="#5bb48e"/>
<circle cx="403.55" cy="147.08" r="1.9" fill="#5bb48e"/>
<circle cx="412.39" cy="145.83" r="1.9" fill="#5bb48e"/>
<circle cx="393.04" cy="147.76" r="1.9" fill="#5bb48e"/>
<circle cx="382.44" cy="151.72" r="1.9" fill="#5bb48e"/>
<circle cx="447.82" cy="148.31" r="1.9" fill="#5bb48e"/>
<circle cx="371.99" cy="144.60" r="1.9" fill="#5bb48e"/>
<circle cx="434.22" cy="147.58" r="1.9" fill="#5bb48e"/>
<circle cx="367.30" cy="153.99" r="1.9" fill="#5bb48e"/>
<circle cx="395.67" cy="146.05" r="1.9" fill="#5bb48e"/>
<circle cx="437.72" cy="146.09" r="1.9" fill="#4a73b8"/>
<circle cx="456.31" cy="150.83" r="1.9" fill="#5bb48e"/>
<circle cx="413.95" cy="153.13" r="1.9" fill="#4a73b8"/>
<circle cx="409.94" cy="153.48" r="1.9" fill="#5bb48e"/>
<circle cx="380.67" cy="147.39" r="1.9" fill="#5bb48e"/>
<circle cx="480.76" cy="137.27" r="1.9" fill="#5bb48e"/>
<circle cx="445.44" cy="144.01" r="1.9" fill="#5bb48e"/>
<circle cx="411.37" cy="149.43" r="1.9" fill="#5bb48e"/>
<circle cx="429.73" cy="150.17" r="1.9" fill="#4a73b8"/>
<circle cx="479.79" cy="140.15" r="1.9" fill="#4a73b8"/>
<circle cx="401.79" cy="151.65" r="1.9" fill="#4a73b8"/>
<circle cx="479.21" cy="137.54" r="1.9" fill="#5bb48e"/>
<circle cx="422.89" cy="148.06" r="1.9" fill="#5bb48e"/>
<circle cx="453.63" cy="146.61" r="1.9" fill="#5bb48e"/>
<circle cx="403.17" cy="149.65" r="1.9" fill="#5bb48e"/>
<circle cx="372.03" cy="145.12" r="1.9" fill="#4a73b8"/>
<circle cx="377.92" cy="152.49" r="1.9" fill="#5bb48e"/>
<circle cx="383.85" cy="150.41" r="1.9" fill="#5bb48e"/>
<circle cx="424.89" cy="148.32" r="1.9" fill="#4a73b8"/>
<circle cx="394.47" cy="147.60" r="1.9" fill="#5bb48e"/>
<circle cx="454.85" cy="153.11" r="1.9" fill="#5bb48e"/>
<circle cx="414.55" cy="150.85" r="1.9" fill="#4a73b8"/>
<circle cx="459.85" cy="148.15" r="1.9" fill="#5bb48e"/>
<circle cx="391.99" cy="144.15" r="1.9" fill="#5bb48e"/>
<circle cx="476.48" cy="142.94" r="1.9" fill="#5bb48e"/>
<circle cx="446.32" cy="150.95" r="1.9" fill="#5bb48e"/>
<circle cx="475.57" cy="150.31" r="1.9" fill="#5bb48e"/>
<circle cx="369.54" cy="152.27" r="1.9" fill="#4a73b8"/>
<circle cx="378.80" cy="144.29" r="1.9" fill="#5bb48e"/>
<circle cx="421.98" cy="147.40" r="1.9" fill="#4a73b8"/>
<circle cx="464.30" cy="147.73" r="1.9" fill="#5bb48e"/>
<circle cx="455.58" cy="151.40" r="1.9" fill="#5bb48e"/>
<circle cx="447.09" cy="152.80" r="1.9" fill="#5bb48e"/>
<circle cx="385.33" cy="154.27" r="1.9" fill="#5bb48e"/>
<circle cx="422.60" cy="147.56" r="1.9" fill="#5bb48e"/>
<circle cx="431.84" cy="150.88" r="1.9" fill="#5bb48e"/>
<circle cx="391.58" cy="148.02" r="1.9" fill="#5bb48e"/>
<circle cx="370.60" cy="153.87" r="1.9" fill="#5bb48e"/>
<circle cx="373.83" cy="149.32" r="1.9" fill="#e2376f"/>
<circle cx="388.56" cy="145.38" r="1.9" fill="#4a73b8"/>
<circle cx="411.62" cy="150.06" r="1.9" fill="#5bb48e"/>
<circle cx="438.64" cy="154.33" r="1.9" fill="#4a73b8"/>
<circle cx="482.82" cy="146.73" r="1.9" fill="#4a73b8"/>
<circle cx="385.43" cy="145.86" r="1.9" fill="#5bb48e"/>
<circle cx="373.38" cy="152.29" r="1.9" fill="#5bb48e"/>
<circle cx="425.70" cy="146.31" r="1.9" fill="#4a73b8"/>
<circle cx="365.81" cy="153.32" r="1.9" fill="#4a73b8"/>
<circle cx="452.01" cy="152.83" r="1.9" fill="#4a73b8"/>
<circle cx="455.86" cy="149.91" r="1.9" fill="#5bb48e"/>
<circle cx="477.60" cy="146.51" r="1.9" fill="#5bb48e"/>
<circle cx="472.75" cy="146.50" r="1.9" fill="#5bb48e"/>
<circle cx="410.72" cy="151.23" r="1.9" fill="#4a73b8"/>
<circle cx="407.90" cy="147.89" r="1.9" fill="#5bb48e"/>
<circle cx="472.21" cy="140.20" r="1.9" fill="#5bb48e"/>
<circle cx="452.75" cy="152.18" r="1.9" fill="#5bb48e"/>
<circle cx="445.45" cy="145.16" r="1.9" fill="#5bb48e"/>
<circle cx="406.19" cy="144.10" r="1.9" fill="#5bb48e"/>
<circle cx="412.50" cy="149.91" r="1.9" fill="#4a73b8"/>
<circle cx="388.86" cy="146.61" r="1.9" fill="#5bb48e"/>
<circle cx="482.01" cy="149.07" r="1.9" fill="#5bb48e"/>
<circle cx="413.08" cy="145.96" r="1.9" fill="#5bb48e"/>
<circle cx="445.09" cy="155.55" r="1.9" fill="#5bb48e"/>
<circle cx="386.33" cy="154.88" r="1.9" fill="#5bb48e"/>
<circle cx="440.03" cy="151.08" r="1.9" fill="#5bb48e"/>
<circle cx="437.84" cy="152.99" r="1.9" fill="#5bb48e"/>
<circle cx="432.06" cy="153.21" r="1.9" fill="#4a73b8"/>
<circle cx="418.43" cy="148.61" r="1.9" fill="#5bb48e"/>
<circle cx="391.87" cy="150.30" r="1.9" fill="#5bb48e"/>
<circle cx="368.33" cy="149.63" r="1.9" fill="#5bb48e"/>
<circle cx="435.25" cy="145.08" r="1.9" fill="#5bb48e"/>
<circle cx="420.27" cy="149.24" r="1.9" fill="#4a73b8"/>
<circle cx="482.24" cy="147.47" r="1.9" fill="#5bb48e"/>
<circle cx="482.32" cy="137.17" r="1.9" fill="#4a73b8"/>
<circle cx="441.76" cy="146.04" r="1.9" fill="#4a73b8"/>
<circle cx="459.42" cy="154.93" r="1.9" fill="#5bb48e"/>
<circle cx="468.04" cy="144.33" r="1.9" fill="#4a73b8"/>
<circle cx="418.53" cy="153.52" r="1.9" fill="#5bb48e"/>
<circle cx="368.10" cy="159.60" r="1.9" fill="#4a73b8"/>
<circle cx="453.50" cy="110.00" r="1.9" fill="#4a73b8"/>
<circle cx="457.50" cy="123.40" r="1.9" fill="#5bb48e"/>
<circle cx="462.00" cy="133.70" r="1.9" fill="#5bb48e"/>
<circle cx="468.20" cy="171.00" r="1.9" fill="#5bb48e"/>
<circle cx="432.00" cy="185.20" r="1.9" fill="#5bb48e"/>
<circle cx="491.20" cy="96.70" r="1.9" fill="#1f3478"/>
<circle cx="492.40" cy="98.50" r="1.9" fill="#1f3478"/>
<circle cx="491.80" cy="100.30" r="1.9" fill="#1f3478"/>
<circle cx="493.60" cy="102.10" r="1.9" fill="#1f3478"/>
<circle cx="490.60" cy="108.20" r="1.9" fill="#1f3478"/>
<circle cx="494.80" cy="108.80" r="1.9" fill="#1f3478"/>
<circle cx="486.90" cy="112.50" r="1.9" fill="#f3a83b"/>
<circle cx="487.50" cy="113.70" r="1.9" fill="#f3a83b"/>
<circle cx="490.60" cy="111.90" r="1.9" fill="#1f3478"/>
<circle cx="490.60" cy="114.30" r="1.9" fill="#1f3478"/>
<circle cx="485.70" cy="117.30" r="1.9" fill="#5bb48e"/>
<circle cx="486.30" cy="119.70" r="1.9" fill="#5bb48e"/>
<circle cx="486.30" cy="122.20" r="1.9" fill="#5bb48e"/>
<circle cx="488.10" cy="125.80" r="1.9" fill="#f3a83b"/>
<circle cx="484.70" cy="127.40" r="1.9" fill="#1f3478"/>
<circle cx="496.00" cy="117.90" r="1.9" fill="#8ccbea"/>
<circle cx="497.20" cy="119.10" r="1.9" fill="#8ccbea"/>
<circle cx="495.40" cy="125.80" r="1.9" fill="#8ccbea"/>
<circle cx="481.80" cy="133.10" r="1.9" fill="#e2376f"/>
<circle cx="484.00" cy="136.00" r="1.9" fill="#5bb48e"/>
<circle cx="485.00" cy="139.00" r="1.9" fill="#5bb48e"/>
<circle cx="489.30" cy="144.60" r="1.9" fill="#1f3478"/>
<circle cx="494.20" cy="144.60" r="1.9" fill="#1f3478"/>
<circle cx="500.90" cy="143.40" r="1.9" fill="#8ccbea"/>
<circle cx="483.00" cy="150.10" r="1.9" fill="#4a73b8"/>
<circle cx="482.70" cy="152.50" r="1.9" fill="#e2376f"/>
<circle cx="485.10" cy="154.30" r="1.9" fill="#1f3478"/>
<circle cx="489.30" cy="152.50" r="1.9" fill="#1f3478"/>
<circle cx="498.00" cy="150.00" r="1.9" fill="#8ccbea"/>
<circle cx="500.50" cy="151.50" r="1.9" fill="#8ccbea"/>
<circle cx="498.50" cy="153.50" r="1.9" fill="#8ccbea"/>
<circle cx="501.00" cy="155.00" r="1.9" fill="#8ccbea"/>
<circle cx="497.80" cy="156.50" r="1.9" fill="#8ccbea"/>
<circle cx="500.00" cy="158.00" r="1.9" fill="#8ccbea"/>
<circle cx="498.50" cy="159.50" r="1.9" fill="#8ccbea"/>
<circle cx="501.50" cy="149.00" r="1.9" fill="#8ccbea"/>
<circle cx="457.50" cy="158.00" r="1.9" fill="#5bb48e"/>
<circle cx="462.60" cy="153.10" r="1.9" fill="#4a73b8"/>
<circle cx="462.60" cy="155.60" r="1.9" fill="#4a73b8"/>
<circle cx="437.10" cy="146.40" r="1.9" fill="#e2376f"/>
<circle cx="371.00" cy="151.50" r="1.9" fill="#e2376f"/>
<circle cx="405.00" cy="154.00" r="1.9" fill="#e2376f"/>
<rect x="524.20" y="160.00" width="10.20" height="10.40" fill="#b5a69c" />
<text x="538.50" y="168.00" font-family="Liberation Sans, sans-serif" font-size="8.7" text-anchor="start" fill="#1a1a1a" font-weight="normal" font-style="normal" >5’ UTR</text>
<rect x="524.20" y="170.97" width="10.20" height="10.40" fill="#5bb48e" />
<text x="538.50" y="178.97" font-family="Liberation Sans, sans-serif" font-size="8.7" text-anchor="start" fill="#1a1a1a" font-weight="normal" font-style="normal" >Missense</text>
<rect x="524.20" y="181.94" width="10.20" height="10.40" fill="#e2376f" />
<text x="538.50" y="189.94" font-family="Liberation Sans, sans-serif" font-size="8.7" text-anchor="start" fill="#1a1a1a" font-weight="normal" font-style="normal" >Nonsense</text>
<rect x="524.20" y="192.91" width="10.20" height="10.40" fill="#4a73b8" />
<text x="538.50" y="200.91" font-family="Liberation Sans, sans-serif" font-size="8.7" text-anchor="start" fill="#1a1a1a" font-weight="normal" font-style="normal" >Synonymous</text>
<rect x="524.20" y="203.88" width="10.20" height="10.40" fill="#f3a83b" />
<text x="538.50" y="211.88" font-family="Liberation Sans, sans-serif" font-size="8.7" text-anchor="start" fill="#1a1a1a" font-weight="normal" font-style="normal" >Canonical splice</text>
<rect x="524.20" y="214.85" width="10.20" height="10.40" fill="#8ccbea" />
<text x="538.50" y="222.85" font-family="Liberation Sans, sans-serif" font-size="8.7" text-anchor="start" fill="#1a1a1a" font-weight="normal" font-style="normal" >Intronic</text>
<rect x="524.20" y="225.82" width="10.20" height="10.40" fill="#1f3478" />
<text x="538.50" y="233.82" font-family="Liberation Sans, sans-serif" font-size="8.7" text-anchor="start" fill="#1a1a1a" font-weight="normal" font-style="normal" >Splice site</text>
<rect x="524.20" y="236.79" width="10.20" height="10.40" fill="#d193c8" />
<text x="538.50" y="244.79" font-family="Liberation Sans, sans-serif" font-size="8.7" text-anchor="start" fill="#1a1a1a" font-weight="normal" font-style="normal" >3’ UTR</text>
<rect x="524.20" y="247.76" width="10.20" height="10.40" fill="#8c3f92" />
<text x="538.50" y="255.76" font-family="Liberation Sans, sans-serif" font-size="8.7" text-anchor="start" fill="#1a1a1a" font-weight="normal" font-style="normal" >Stop loss</text>
<text x="2.50" y="231.00" font-family="Liberation Serif, serif" font-size="16" text-anchor="start" fill="#000" font-weight="bold" font-style="normal" >d</text>
<path d="M96.00,326.20 L96.00,238.00 L100.12,238.00 L100.12,255.32 L104.24,255.32 L104.24,308.88 L108.36,308.88 L108.36,315.18 L112.48,315.18 L112.48,319.90 L116.60,319.90 L116.60,319.90 L120.72,319.90 L120.72,318.32 L124.84,318.32 L124.84,319.90 L128.96,319.90 L128.96,323.05 L133.08,323.05 L133.08,323.05 L137.20,323.05 L137.20,324.62 L141.32,324.62 L141.32,324.62 L145.44,324.62 L145.44,323.05 L149.56,323.05 L149.56,323.05 L153.68,323.05 L153.68,324.62 L157.80,324.62 L157.80,326.20 L161.92,326.20 L161.92,326.20 L166.04,326.20 L166.04,324.62 L170.16,324.62 L170.16,323.05 L174.28,323.05 L174.28,326.20 L178.40,326.20 L178.40,326.20 L182.52,326.20 L182.52,326.20 L186.64,326.20 L186.64,326.20 L190.76,326.20 L190.76,324.62 L194.88,324.62 L194.88,326.20 L199.00,326.20 L199.00,326.20 L203.12,326.20 L203.12,324.62 L207.24,324.62 L207.24,326.20 L211.36,326.20 L211.36,326.20 L215.48,326.20 L215.48,324.62 L219.60,324.62 L219.60,326.20 Z" fill="#b5a69c"/>
<path d="M96.00,326.20 L96.00,238.00 L100.12,238.00 L100.12,255.32 L104.24,255.32 L104.24,308.88 L108.36,308.88 L108.36,315.18 L112.48,315.18 L112.48,321.47 L116.60,321.47 L116.60,319.90 L120.72,319.90 L120.72,318.32 L124.84,318.32 L124.84,319.90 L128.96,319.90 L128.96,323.05 L133.08,323.05 L133.08,323.05 L137.20,323.05 L137.20,324.62 L141.32,324.62 L141.32,324.62 L145.44,324.62 L145.44,323.05 L149.56,323.05 L149.56,323.05 L153.68,323.05 L153.68,324.62 L157.80,324.62 L157.80,326.20 L161.92,326.20 L161.92,326.20 L166.04,326.20 L166.04,324.62 L170.16,324.62 L170.16,323.05 L174.28,323.05 L174.28,326.20 L178.40,326.20 L178.40,326.20 L182.52,326.20 L182.52,326.20 L186.64,326.20 L186.64,326.20 L190.76,326.20 L190.76,324.62 L194.88,324.62 L194.88,326.20 L199.00,326.20 L199.00,326.20 L203.12,326.20 L203.12,324.62 L207.24,324.62 L207.24,326.20 L211.36,326.20 L211.36,326.20 L215.48,326.20 L215.48,324.62 L219.60,324.62 L219.60,326.20 Z" fill="#5bb48e"/>
<path d="M96.00,326.20 L96.00,301.00 L100.12,301.00 L100.12,302.57 L104.24,302.57 L104.24,321.47 L108.36,321.47 L108.36,321.47 L112.48,321.47 L112.48,321.47 L116.60,321.47 L116.60,323.05 L120.72,323.05 L120.72,321.47 L124.84,321.47 L124.84,319.90 L128.96,319.90 L128.96,323.05 L133.08,323.05 L133.08,326.20 L137.20,326.20 L137.20,326.20 L141.32,326.20 L141.32,324.62 L145.44,324.62 L145.44,326.20 L149.56,326.20 L149.56,326.20 L153.68,326.20 L153.68,326.20 L157.80,326.20 L157.80,326.20 L161.92,326.20 L161.92,326.20 L166.04,326.20 L166.04,326.20 L170.16,326.20 L170.16,326.20 L174.28,326.20 L174.28,326.20 L178.40,326.20 L178.40,326.20 L182.52,326.20 L182.52,326.20 L186.64,326.20 L186.64,326.20 L190.76,326.20 L190.76,326.20 L194.88,326.20 L194.88,326.20 L199.00,326.20 L199.00,326.20 L203.12,326.20 L203.12,326.20 L207.24,326.20 L207.24,326.20 L211.36,326.20 L211.36,326.20 L215.48,326.20 L215.48,326.20 L219.60,326.20 L219.60,326.20 Z" fill="#e2376f"/>
<path d="M96.00,326.20 L96.00,304.15 L100.12,304.15 L100.12,302.57 L104.24,302.57 L104.24,324.62 L108.36,324.62 L108.36,321.47 L112.48,321.47 L112.48,323.05 L116.60,323.05 L116.60,323.05 L120.72,323.05 L120.72,321.47 L124.84,321.47 L124.84,321.47 L128.96,321.47 L128.96,324.62 L133.08,324.62 L133.08,326.20 L137.20,326.20 L137.20,326.20 L141.32,326.20 L141.32,324.62 L145.44,324.62 L145.44,326.20 L149.56,326.20 L149.56,326.20 L153.68,326.20 L153.68,326.20 L157.80,326.20 L157.80,326.20 L161.92,326.20 L161.92,326.20 L166.04,326.20 L166.04,326.20 L170.16,326.20 L170.16,326.20 L174.28,326.20 L174.28,326.20 L178.40,326.20 L178.40,326.20 L182.52,326.20 L182.52,326.20 L186.64,326.20 L186.64,326.20 L190.76,326.20 L190.76,326.20 L194.88,326.20 L194.88,326.20 L199.00,326.20 L199.00,326.20 L203.12,326.20 L203.12,326.20 L207.24,326.20 L207.24,326.20 L211.36,326.20 L211.36,326.20 L215.48,326.20 L215.48,326.20 L219.60,326.20 L219.60,326.20 Z" fill="#4a73b8"/>
<path d="M96.00,326.20 L96.00,326.20 L100.12,326.20 L100.12,324.62 L104.24,324.62 L104.24,326.20 L108.36,326.20 L108.36,326.20 L112.48,326.20 L112.48,323.05 L116.60,323.05 L116.60,326.20 L120.72,326.20 L120.72,326.20 L124.84,326.20 L124.84,326.20 L128.96,326.20 L128.96,326.20 L133.08,326.20 L133.08,326.20 L137.20,326.20 L137.20,326.20 L141.32,326.20 L141.32,324.62 L145.44,324.62 L145.44,326.20 L149.56,326.20 L149.56,326.20 L153.68,326.20 L153.68,326.20 L157.80,326.20 L157.80,326.20 L161.92,326.20 L161.92,326.20 L166.04,326.20 L166.04,326.20 L170.16,326.20 L170.16,326.20 L174.28,326.20 L174.28,326.20 L178.40,326.20 L178.40,326.20 L182.52,326.20 L182.52,326.20 L186.64,326.20 L186.64,326.20 L190.76,326.20 L190.76,326.20 L194.88,326.20 L194.88,326.20 L199.00,326.20 L199.00,326.20 L203.12,326.20 L203.12,326.20 L207.24,326.20 L207.24,326.20 L211.36,326.20 L211.36,326.20 L215.48,326.20 L215.48,326.20 L219.60,326.20 L219.60,326.20 Z" fill="#1f3478"/>
<path d="M96.00,326.20 L96.00,326.20 L100.12,326.20 L100.12,324.62 L104.24,324.62 L104.24,326.20 L108.36,326.20 L108.36,326.20 L112.48,326.20 L112.48,323.05 L116.60,323.05 L116.60,326.20 L120.72,326.20 L120.72,326.20 L124.84,326.20 L124.84,326.20 L128.96,326.20 L128.96,326.20 L133.08,326.20 L133.08,326.20 L137.20,326.20 L137.20,326.20 L141.32,326.20 L141.32,326.20 L145.44,326.20 L145.44,326.20 L149.56,326.20 L149.56,326.20 L153.68,326.20 L153.68,326.20 L157.80,326.20 L157.80,326.20 L161.92,326.20 L161.92,326.20 L166.04,326.20 L166.04,326.20 L170.16,326.20 L170.16,326.20 L174.28,326.20 L174.28,326.20 L178.40,326.20 L178.40,326.20 L182.52,326.20 L182.52,326.20 L186.64,326.20 L186.64,326.20 L190.76,326.20 L190.76,326.20 L194.88,326.20 L194.88,326.20 L199.00,326.20 L199.00,326.20 L203.12,326.20 L203.12,326.20 L207.24,326.20 L207.24,326.20 L211.36,326.20 L211.36,326.20 L215.48,326.20 L215.48,326.20 L219.60,326.20 L219.60,326.20 Z" fill="#8c3f92"/>
<line x1="96.00" y1="326.00" x2="219.60" y2="326.00" stroke="#dfe6ea" stroke-width="0.8" />
<text x="87.00" y="267.70" font-family="Liberation Sans, sans-serif" font-size="10.4" text-anchor="end" fill="#4d4d4d" font-weight="normal" font-style="normal" >40</text>
<line x1="88.60" y1="264.00" x2="91.00" y2="264.00" stroke="#222" stroke-width="1.0" />
<text x="87.00" y="298.50" font-family="Liberation Sans, sans-serif" font-size="10.4" text-anchor="end" fill="#4d4d4d" font-weight="normal" font-style="normal" >20</text>
<line x1="88.60" y1="294.80" x2="91.00" y2="294.80" stroke="#222" stroke-width="1.0" />
<text x="87.00" y="329.70" font-family="Liberation Sans, sans-serif" font-size="10.4" text-anchor="end" fill="#4d4d4d" font-weight="normal" font-style="normal" >0</text>
<line x1="88.60" y1="326.00" x2="91.00" y2="326.00" stroke="#222" stroke-width="1.0" />
<line x1="97.10" y1="329.80" x2="97.10" y2="331.80" stroke="#222" stroke-width="1.0" />
<text x="101.00" y="343.00" font-family="Liberation Sans, sans-serif" font-size="10.4" text-anchor="middle" fill="#4d4d4d" font-weight="normal" font-style="normal" >0.000</text>
<line x1="130.80" y1="329.80" x2="130.80" y2="331.80" stroke="#222" stroke-width="1.0" />
<text x="134.70" y="343.00" font-family="Liberation Sans, sans-serif" font-size="10.4" text-anchor="middle" fill="#4d4d4d" font-weight="normal" font-style="normal" >0.001</text>
<line x1="163.40" y1="329.80" x2="163.40" y2="331.80" stroke="#222" stroke-width="1.0" />
<text x="167.30" y="343.00" font-family="Liberation Sans, sans-serif" font-size="10.4" text-anchor="middle" fill="#4d4d4d" font-weight="normal" font-style="normal" >0.002</text>
<line x1="196.20" y1="329.80" x2="196.20" y2="331.80" stroke="#222" stroke-width="1.0" />
<text x="200.10" y="343.00" font-family="Liberation Sans, sans-serif" font-size="10.4" text-anchor="middle" fill="#4d4d4d" font-weight="normal" font-style="normal" >0.003</text>
<text x="0.00" y="0.00" font-family="Liberation Sans, sans-serif" font-size="10.6" text-anchor="middle" fill="#000" font-weight="normal" font-style="normal" transform="translate(68.2,273) rotate(-90)">Variants</text>
<text x="155.80" y="353.60" font-family="Liberation Sans, sans-serif" font-size="10.7" text-anchor="middle" fill="#000" font-weight="normal" font-style="normal" >Variant freq.</text>
<text x="287.50" y="231.00" font-family="Liberation Serif, serif" font-size="16" text-anchor="start" fill="#000" font-weight="bold" font-style="normal" >e</text>
<path d="M364.50,328.30 L364.50,232.21 L368.80,232.21 L368.80,318.17 L373.10,318.17 L373.10,327.69 L377.40,327.69 L377.40,327.99 L381.70,327.99 L381.70,328.30 L386.00,328.30 L386.00,327.99 L390.30,327.99 L390.30,327.99 L394.60,327.99 L394.60,327.99 L398.90,327.99 L398.90,328.30 L403.20,328.30 L403.20,327.69 L407.50,327.69 L407.50,328.30 L411.80,328.30 L411.80,328.30 L416.10,328.30 L416.10,328.30 L420.40,328.30 L420.40,328.30 L424.70,328.30 L424.70,328.30 L429.00,328.30 L429.00,328.30 L433.30,328.30 L433.30,328.30 L437.60,328.30 L437.60,328.30 L441.90,328.30 L441.90,327.99 L446.20,327.99 L446.20,328.30 L450.50,328.30 L450.50,327.99 L454.80,327.99 L454.80,328.30 L459.10,328.30 L459.10,327.69 L463.40,327.69 L463.40,328.30 L467.70,328.30 L467.70,328.30 L472.00,328.30 L472.00,328.30 L476.30,328.30 L476.30,327.99 L480.60,327.99 L480.60,327.99 L484.90,327.99 L484.90,328.30 L489.20,328.30 L489.20,327.99 L493.50,327.99 L493.50,328.30 Z" fill="#b5a69c"/>
<path d="M364.50,328.30 L364.50,232.21 L368.80,232.21 L368.80,318.17 L373.10,318.17 L373.10,327.69 L377.40,327.69 L377.40,327.99 L381.70,327.99 L381.70,328.30 L386.00,328.30 L386.00,328.30 L390.30,328.30 L390.30,327.99 L394.60,327.99 L394.60,327.99 L398.90,327.99 L398.90,328.30 L403.20,328.30 L403.20,327.69 L407.50,327.69 L407.50,328.30 L411.80,328.30 L411.80,328.30 L416.10,328.30 L416.10,328.30 L420.40,328.30 L420.40,328.30 L424.70,328.30 L424.70,328.30 L429.00,328.30 L429.00,328.30 L433.30,328.30 L433.30,328.30 L437.60,328.30 L437.60,328.30 L441.90,328.30 L441.90,327.99 L446.20,327.99 L446.20,328.30 L450.50,328.30 L450.50,327.99 L454.80,327.99 L454.80,328.30 L459.10,328.30 L459.10,327.69 L463.40,327.69 L463.40,328.30 L467.70,328.30 L467.70,328.30 L472.00,328.30 L472.00,328.30 L476.30,328.30 L476.30,327.99 L480.60,327.99 L480.60,327.99 L484.90,327.99 L484.90,328.30 L489.20,328.30 L489.20,327.99 L493.50,327.99 L493.50,328.30 Z" fill="#5bb48e"/>
<path d="M364.50,328.30 L364.50,296.37 L368.80,296.37 L368.80,327.07 L373.10,327.07 L373.10,327.69 L377.40,327.69 L377.40,328.30 L381.70,328.30 L381.70,328.30 L386.00,328.30 L386.00,328.30 L390.30,328.30 L390.30,327.99 L394.60,327.99 L394.60,327.99 L398.90,327.99 L398.90,328.30 L403.20,328.30 L403.20,327.69 L407.50,327.69 L407.50,328.30 L411.80,328.30 L411.80,328.30 L416.10,328.30 L416.10,328.30 L420.40,328.30 L420.40,328.30 L424.70,328.30 L424.70,328.30 L429.00,328.30 L429.00,328.30 L433.30,328.30 L433.30,328.30 L437.60,328.30 L437.60,328.30 L441.90,328.30 L441.90,327.99 L446.20,327.99 L446.20,328.30 L450.50,328.30 L450.50,327.99 L454.80,327.99 L454.80,328.30 L459.10,328.30 L459.10,327.69 L463.40,327.69 L463.40,328.30 L467.70,328.30 L467.70,328.30 L472.00,328.30 L472.00,328.30 L476.30,328.30 L476.30,327.99 L480.60,327.99 L480.60,327.99 L484.90,327.99 L484.90,328.30 L489.20,328.30 L489.20,327.99 L493.50,327.99 L493.50,328.30 Z" fill="#e2376f"/>
<path d="M364.50,328.30 L364.50,300.36 L368.80,300.36 L368.80,327.07 L373.10,327.07 L373.10,327.69 L377.40,327.69 L377.40,328.30 L381.70,328.30 L381.70,328.30 L386.00,328.30 L386.00,328.30 L390.30,328.30 L390.30,327.99 L394.60,327.99 L394.60,327.99 L398.90,327.99 L398.90,328.30 L403.20,328.30 L403.20,327.69 L407.50,327.69 L407.50,328.30 L411.80,328.30 L411.80,328.30 L416.10,328.30 L416.10,328.30 L420.40,328.30 L420.40,328.30 L424.70,328.30 L424.70,328.30 L429.00,328.30 L429.00,328.30 L433.30,328.30 L433.30,328.30 L437.60,328.30 L437.60,328.30 L441.90,328.30 L441.90,327.99 L446.20,327.99 L446.20,328.30 L450.50,328.30 L450.50,327.99 L454.80,327.99 L454.80,328.30 L459.10,328.30 L459.10,327.69 L463.40,327.69 L463.40,328.30 L467.70,328.30 L467.70,328.30 L472.00,328.30 L472.00,328.30 L476.30,328.30 L476.30,327.99 L480.60,327.99 L480.60,327.99 L484.90,327.99 L484.90,328.30 L489.20,328.30 L489.20,327.99 L493.50,327.99 L493.50,328.30 Z" fill="#4a73b8"/>
<path d="M364.50,328.30 L364.50,322.77 L368.80,322.77 L368.80,327.07 L373.10,327.07 L373.10,328.30 L377.40,328.30 L377.40,328.30 L381.70,328.30 L381.70,328.30 L386.00,328.30 L386.00,328.30 L390.30,328.30 L390.30,327.99 L394.60,327.99 L394.60,328.30 L398.90,328.30 L398.90,328.30 L403.20,328.30 L403.20,328.30 L407.50,328.30 L407.50,328.30 L411.80,328.30 L411.80,328.30 L416.10,328.30 L416.10,328.30 L420.40,328.30 L420.40,328.30 L424.70,328.30 L424.70,328.30 L429.00,328.30 L429.00,328.30 L433.30,328.30 L433.30,328.30 L437.60,328.30 L437.60,328.30 L441.90,328.30 L441.90,328.30 L446.20,328.30 L446.20,328.30 L450.50,328.30 L450.50,328.30 L454.80,328.30 L454.80,328.30 L459.10,328.30 L459.10,328.30 L463.40,328.30 L463.40,328.30 L467.70,328.30 L467.70,328.30 L472.00,328.30 L472.00,328.30 L476.30,328.30 L476.30,328.30 L480.60,328.30 L480.60,328.30 L484.90,328.30 L484.90,328.30 L489.20,328.30 L489.20,328.30 L493.50,328.30 L493.50,328.30 Z" fill="#f3a83b"/>
<path d="M364.50,328.30 L364.50,322.77 L368.80,322.77 L368.80,327.07 L373.10,327.07 L373.10,328.30 L377.40,328.30 L377.40,328.30 L381.70,328.30 L381.70,328.30 L386.00,328.30 L386.00,328.30 L390.30,328.30 L390.30,328.30 L394.60,328.30 L394.60,328.30 L398.90,328.30 L398.90,328.30 L403.20,328.30 L403.20,328.30 L407.50,328.30 L407.50,328.30 L411.80,328.30 L411.80,328.30 L416.10,328.30 L416.10,328.30 L420.40,328.30 L420.40,328.30 L424.70,328.30 L424.70,328.30 L429.00,328.30 L429.00,328.30 L433.30,328.30 L433.30,328.30 L437.60,328.30 L437.60,328.30 L441.90,328.30 L441.90,328.30 L446.20,328.30 L446.20,328.30 L450.50,328.30 L450.50,328.30 L454.80,328.30 L454.80,328.30 L459.10,328.30 L459.10,328.30 L463.40,328.30 L463.40,328.30 L467.70,328.30 L467.70,328.30 L472.00,328.30 L472.00,328.30 L476.30,328.30 L476.30,328.30 L480.60,328.30 L480.60,328.30 L484.90,328.30 L484.90,328.30 L489.20,328.30 L489.20,328.30 L493.50,328.30 L493.50,328.30 Z" fill="#8ccbea"/>
<path d="M364.50,328.30 L364.50,326.76 L368.80,326.76 L368.80,327.38 L373.10,327.38 L373.10,328.30 L377.40,328.30 L377.40,328.30 L381.70,328.30 L381.70,328.30 L386.00,328.30 L386.00,328.30 L390.30,328.30 L390.30,328.30 L394.60,328.30 L394.60,328.30 L398.90,328.30 L398.90,328.30 L403.20,328.30 L403.20,328.30 L407.50,328.30 L407.50,328.30 L411.80,328.30 L411.80,328.30 L416.10,328.30 L416.10,328.30 L420.40,328.30 L420.40,328.30 L424.70,328.30 L424.70,328.30 L429.00,328.30 L429.00,328.30 L433.30,328.30 L433.30,328.30 L437.60,328.30 L437.60,328.30 L441.90,328.30 L441.90,328.30 L446.20,328.30 L446.20,328.30 L450.50,328.30 L450.50,328.30 L454.80,328.30 L454.80,328.30 L459.10,328.30 L459.10,328.30 L463.40,328.30 L463.40,328.30 L467.70,328.30 L467.70,328.30 L472.00,328.30 L472.00,328.30 L476.30,328.30 L476.30,328.30 L480.60,328.30 L480.60,328.30 L484.90,328.30 L484.90,328.30 L489.20,328.30 L489.20,328.30 L493.50,328.30 L493.50,328.30 Z" fill="#1f3478"/>
<line x1="364.50" y1="328.30" x2="497.00" y2="328.30" stroke="#dfe6ea" stroke-width="0.8" />
<text x="353.30" y="239.90" font-family="Liberation Sans, sans-serif" font-size="10.4" text-anchor="end" fill="#4d4d4d" font-weight="normal" font-style="normal" >300</text>
<line x1="354.90" y1="236.20" x2="357.30" y2="236.20" stroke="#222" stroke-width="1.0" />
<text x="353.30" y="270.30" font-family="Liberation Sans, sans-serif" font-size="10.4" text-anchor="end" fill="#4d4d4d" font-weight="normal" font-style="normal" >200</text>
<line x1="354.90" y1="266.60" x2="357.30" y2="266.60" stroke="#222" stroke-width="1.0" />
<text x="353.30" y="301.30" font-family="Liberation Sans, sans-serif" font-size="10.4" text-anchor="end" fill="#4d4d4d" font-weight="normal" font-style="normal" >100</text>
<line x1="354.90" y1="297.60" x2="357.30" y2="297.60" stroke="#222" stroke-width="1.0" />
<text x="353.30" y="332.00" font-family="Liberation Sans, sans-serif" font-size="10.4" text-anchor="end" fill="#4d4d4d" font-weight="normal" font-style="normal" >0</text>
<line x1="354.90" y1="328.30" x2="357.30" y2="328.30" stroke="#222" stroke-width="1.0" />
<line x1="366.40" y1="333.00" x2="366.40" y2="334.60" stroke="#222" stroke-width="1.0" />
<text x="370.30" y="343.60" font-family="Liberation Sans, sans-serif" font-size="10.4" text-anchor="middle" fill="#4d4d4d" font-weight="normal" font-style="normal" >0.00</text>
<line x1="403.40" y1="333.00" x2="403.40" y2="334.60" stroke="#222" stroke-width="1.0" />
<text x="407.30" y="343.60" font-family="Liberation Sans, sans-serif" font-size="10.4" text-anchor="middle" fill="#4d4d4d" font-weight="normal" font-style="normal" >0.01</text>
<line x1="440.00" y1="333.00" x2="440.00" y2="334.60" stroke="#222" stroke-width="1.0" />
<text x="443.90" y="343.60" font-family="Liberation Sans, sans-serif" font-size="10.4" text-anchor="middle" fill="#4d4d4d" font-weight="normal" font-style="normal" >0.02</text>
<line x1="476.70" y1="333.00" x2="476.70" y2="334.60" stroke="#222" stroke-width="1.0" />
<text x="480.60" y="343.60" font-family="Liberation Sans, sans-serif" font-size="10.4" text-anchor="middle" fill="#4d4d4d" font-weight="normal" font-style="normal" >0.03</text>
<text x="0.00" y="0.00" font-family="Liberation Sans, sans-serif" font-size="10.6" text-anchor="middle" fill="#000" font-weight="normal" font-style="normal" transform="translate(329.8,273.3) rotate(-90)">Variants</text>
<text x="439.70" y="358.00" font-family="Liberation Sans, sans-serif" font-size="10.7" text-anchor="middle" fill="#000" font-weight="normal" font-style="normal" >Variant freq.</text>
<text x="2.80" y="372.90" font-family="Liberation Serif, serif" font-size="16" text-anchor="start" fill="#000" font-weight="bold" font-style="normal" >f</text>
<text x="121.40" y="379.20" font-family="Liberation Sans, sans-serif" font-size="10.2" text-anchor="middle" fill="#111" font-weight="normal" font-style="normal" >Exon 1-5’</text>
<path d="M60.10,456.00 L60.10,450.44 L64.25,450.44 L64.25,388.83 L68.40,388.83 L68.40,404.49 L72.55,404.49 L72.55,439.84 L76.70,439.84 L76.70,451.96 L80.85,451.96 L80.85,452.46 L85.00,452.46 L85.00,451.96 L89.15,451.96 L89.15,454.49 L93.30,454.49 L93.30,455.50 L97.45,455.50 L97.45,455.50 L101.60,455.50 L101.60,455.50 L105.75,455.50 L105.75,455.50 L109.90,455.50 L109.90,455.50 L114.05,455.50 L114.05,456.00 L118.20,456.00 L118.20,456.00 L122.35,456.00 L122.35,455.50 L126.50,455.50 L126.50,456.00 Z" fill="#b5a69c"/>
<path d="M60.10,456.00 L60.10,450.44 L64.25,450.44 L64.25,392.88 L68.40,392.88 L68.40,407.52 L72.55,407.52 L72.55,439.84 L76.70,439.84 L76.70,451.96 L80.85,451.96 L80.85,452.46 L85.00,452.46 L85.00,451.96 L89.15,451.96 L89.15,454.49 L93.30,454.49 L93.30,455.50 L97.45,455.50 L97.45,455.50 L101.60,455.50 L101.60,455.50 L105.75,455.50 L105.75,456.00 L109.90,456.00 L109.90,455.50 L114.05,455.50 L114.05,456.00 L118.20,456.00 L118.20,456.00 L122.35,456.00 L122.35,456.00 L126.50,456.00 L126.50,456.00 Z" fill="#5bb48e"/>
<path d="M60.10,456.00 L60.10,453.98 L64.25,453.98 L64.25,439.84 L68.40,439.84 L68.40,446.40 L72.55,446.40 L72.55,450.44 L76.70,450.44 L76.70,453.98 L80.85,453.98 L80.85,454.49 L85.00,454.49 L85.00,454.99 L89.15,454.99 L89.15,456.00 L93.30,456.00 L93.30,456.00 L97.45,456.00 L97.45,456.00 L101.60,456.00 L101.60,456.00 L105.75,456.00 L105.75,456.00 L109.90,456.00 L109.90,456.00 L114.05,456.00 L114.05,456.00 L118.20,456.00 L118.20,456.00 L122.35,456.00 L122.35,456.00 L126.50,456.00 L126.50,456.00 Z" fill="#e2376f"/>
<path d="M60.10,456.00 L60.10,453.98 L64.25,453.98 L64.25,446.40 L68.40,446.40 L68.40,448.43 L72.55,448.43 L72.55,451.96 L76.70,451.96 L76.70,454.49 L80.85,454.49 L80.85,454.49 L85.00,454.49 L85.00,454.99 L89.15,454.99 L89.15,456.00 L93.30,456.00 L93.30,456.00 L97.45,456.00 L97.45,456.00 L101.60,456.00 L101.60,456.00 L105.75,456.00 L105.75,456.00 L109.90,456.00 L109.90,456.00 L114.05,456.00 L114.05,456.00 L118.20,456.00 L118.20,456.00 L122.35,456.00 L122.35,456.00 L126.50,456.00 L126.50,456.00 Z" fill="#4a73b8"/>
<line x1="60.00" y1="456.00" x2="179.00" y2="456.00" stroke="#dfe6ea" stroke-width="0.8" />
<text x="44.90" y="410.80" font-family="Liberation Sans, sans-serif" font-size="10.6" text-anchor="end" fill="#4d4d4d" font-weight="normal" font-style="normal" >100</text>
<line x1="49.00" y1="405.50" x2="51.70" y2="405.50" stroke="#222" stroke-width="1.0" />
<text x="44.90" y="436.00" font-family="Liberation Sans, sans-serif" font-size="10.6" text-anchor="end" fill="#4d4d4d" font-weight="normal" font-style="normal" >50</text>
<line x1="49.00" y1="430.70" x2="51.70" y2="430.70" stroke="#222" stroke-width="1.0" />
<text x="44.90" y="461.30" font-family="Liberation Sans, sans-serif" font-size="10.6" text-anchor="end" fill="#4d4d4d" font-weight="normal" font-style="normal" >0</text>
<line x1="49.00" y1="456.00" x2="51.70" y2="456.00" stroke="#222" stroke-width="1.0" />
<line x1="58.00" y1="459.90" x2="58.00" y2="462.70" stroke="#222" stroke-width="1.0" />
<text x="60.20" y="471.80" font-family="Liberation Sans, sans-serif" font-size="10.6" text-anchor="middle" fill="#4d4d4d" font-weight="normal" font-style="normal" >0.000</text>
<line x1="88.80" y1="459.90" x2="88.80" y2="462.70" stroke="#222" stroke-width="1.0" />
<line x1="119.40" y1="459.90" x2="119.40" y2="462.70" stroke="#222" stroke-width="1.0" />
<text x="121.60" y="471.80" font-family="Liberation Sans, sans-serif" font-size="10.6" text-anchor="middle" fill="#4d4d4d" font-weight="normal" font-style="normal" >0.002</text>
<line x1="149.90" y1="459.90" x2="149.90" y2="462.70" stroke="#222" stroke-width="1.0" />
<line x1="180.20" y1="459.90" x2="180.20" y2="462.70" stroke="#222" stroke-width="1.0" />
<text x="182.40" y="471.80" font-family="Liberation Sans, sans-serif" font-size="10.6" text-anchor="middle" fill="#4d4d4d" font-weight="normal" font-style="normal" >0.004</text>
<text x="187.50" y="373.50" font-family="Liberation Serif, serif" font-size="16" text-anchor="start" fill="#000" font-weight="bold" font-style="normal" >g</text>
<text x="285.00" y="379.20" font-family="Liberation Sans, sans-serif" font-size="10.2" text-anchor="middle" fill="#111" font-weight="normal" font-style="normal" >Exon 1-mid</text>
<path d="M222.80,456.00 L222.80,455.27 L226.95,455.27 L226.95,455.27 L231.10,455.27 L231.10,455.56 L235.25,455.56 L235.25,455.56 L239.40,455.56 L239.40,450.20 L243.55,450.20 L243.55,428.45 L247.70,428.45 L247.70,388.94 L251.85,388.94 L251.85,394.38 L256.00,394.38 L256.00,397.64 L260.15,397.64 L260.15,427.00 L264.30,427.00 L264.30,442.95 L268.45,442.95 L268.45,452.38 L272.60,452.38 L272.60,455.27 L276.75,455.27 L276.75,455.56 L280.90,455.56 L280.90,456.00 L285.05,456.00 L285.05,456.00 L289.20,456.00 L289.20,456.00 L293.35,456.00 L293.35,456.00 L297.50,456.00 L297.50,456.00 L301.65,456.00 L301.65,456.00 L305.80,456.00 L305.80,456.00 L309.95,456.00 L309.95,456.00 L314.10,456.00 L314.10,456.00 L318.25,456.00 L318.25,456.00 L322.40,456.00 L322.40,455.27 L326.55,455.27 L326.55,456.00 Z" fill="#5bb48e"/>
<path d="M222.80,456.00 L222.80,455.27 L226.95,455.27 L226.95,456.00 L231.10,456.00 L231.10,455.56 L235.25,455.56 L235.25,455.56 L239.40,455.56 L239.40,455.27 L243.55,455.27 L243.55,450.20 L247.70,450.20 L247.70,433.89 L251.85,433.89 L251.85,439.32 L256.00,439.32 L256.00,441.86 L260.15,441.86 L260.15,448.02 L264.30,448.02 L264.30,451.29 L268.45,451.29 L268.45,453.82 L272.60,453.82 L272.60,456.00 L276.75,456.00 L276.75,455.56 L280.90,455.56 L280.90,456.00 L285.05,456.00 L285.05,456.00 L289.20,456.00 L289.20,456.00 L293.35,456.00 L293.35,456.00 L297.50,456.00 L297.50,456.00 L301.65,456.00 L301.65,456.00 L305.80,456.00 L305.80,456.00 L309.95,456.00 L309.95,456.00 L314.10,456.00 L314.10,456.00 L318.25,456.00 L318.25,456.00 L322.40,456.00 L322.40,455.27 L326.55,455.27 L326.55,456.00 Z" fill="#e2376f"/>
<path d="M222.80,456.00 L222.80,455.27 L226.95,455.27 L226.95,456.00 L231.10,456.00 L231.10,455.56 L235.25,455.56 L235.25,455.56 L239.40,455.56 L239.40,455.27 L243.55,455.27 L243.55,450.20 L247.70,450.20 L247.70,436.43 L251.85,436.43 L251.85,441.50 L256.00,441.50 L256.00,444.04 L260.15,444.04 L260.15,448.75 L264.30,448.75 L264.30,452.74 L268.45,452.74 L268.45,454.55 L272.60,454.55 L272.60,456.00 L276.75,456.00 L276.75,455.56 L280.90,455.56 L280.90,456.00 L285.05,456.00 L285.05,456.00 L289.20,456.00 L289.20,456.00 L293.35,456.00 L293.35,456.00 L297.50,456.00 L297.50,456.00 L301.65,456.00 L301.65,456.00 L305.80,456.00 L305.80,456.00 L309.95,456.00 L309.95,456.00 L314.10,456.00 L314.10,456.00 L318.25,456.00 L318.25,456.00 L322.40,456.00 L322.40,455.27 L326.55,455.27 L326.55,456.00 Z" fill="#4a73b8"/>
<path d="M222.80,456.00 L222.80,456.00 L226.95,456.00 L226.95,456.00 L231.10,456.00 L231.10,455.56 L235.25,455.56 L235.25,455.56 L239.40,455.56 L239.40,455.27 L243.55,455.27 L243.55,456.00 L247.70,456.00 L247.70,456.00 L251.85,456.00 L251.85,456.00 L256.00,456.00 L256.00,456.00 L260.15,456.00 L260.15,456.00 L264.30,456.00 L264.30,456.00 L268.45,456.00 L268.45,456.00 L272.60,456.00 L272.60,456.00 L276.75,456.00 L276.75,455.56 L280.90,455.56 L280.90,456.00 L285.05,456.00 L285.05,456.00 L289.20,456.00 L289.20,456.00 L293.35,456.00 L293.35,456.00 L297.50,456.00 L297.50,456.00 L301.65,456.00 L301.65,456.00 L305.80,456.00 L305.80,456.00 L309.95,456.00 L309.95,456.00 L314.10,456.00 L314.10,456.00 L318.25,456.00 L318.25,456.00 L322.40,456.00 L322.40,456.00 L326.55,456.00 L326.55,456.00 Z" fill="#8ccbea"/>
<path d="M222.80,456.00 L222.80,456.00 L226.95,456.00 L226.95,456.00 L231.10,456.00 L231.10,456.00 L235.25,456.00 L235.25,455.56 L239.40,455.56 L239.40,455.27 L243.55,455.27 L243.55,456.00 L247.70,456.00 L247.70,456.00 L251.85,456.00 L251.85,456.00 L256.00,456.00 L256.00,456.00 L260.15,456.00 L260.15,456.00 L264.30,456.00 L264.30,456.00 L268.45,456.00 L268.45,456.00 L272.60,456.00 L272.60,456.00 L276.75,456.00 L276.75,456.00 L280.90,456.00 L280.90,456.00 L285.05,456.00 L285.05,456.00 L289.20,456.00 L289.20,456.00 L293.35,456.00 L293.35,456.00 L297.50,456.00 L297.50,456.00 L301.65,456.00 L301.65,456.00 L305.80,456.00 L305.80,456.00 L309.95,456.00 L309.95,456.00 L314.10,456.00 L314.10,456.00 L318.25,456.00 L318.25,456.00 L322.40,456.00 L322.40,456.00 L326.55,456.00 L326.55,456.00 Z" fill="#8c3f92"/>
<line x1="222.80" y1="456.00" x2="341.00" y2="456.00" stroke="#dfe6ea" stroke-width="0.8" />
<text x="208.30" y="406.90" font-family="Liberation Sans, sans-serif" font-size="10.6" text-anchor="end" fill="#4d4d4d" font-weight="normal" font-style="normal" >75</text>
<line x1="211.40" y1="401.60" x2="214.10" y2="401.60" stroke="#222" stroke-width="1.0" />
<text x="208.30" y="424.90" font-family="Liberation Sans, sans-serif" font-size="10.6" text-anchor="end" fill="#4d4d4d" font-weight="normal" font-style="normal" >50</text>
<line x1="211.40" y1="419.60" x2="214.10" y2="419.60" stroke="#222" stroke-width="1.0" />
<text x="208.30" y="443.10" font-family="Liberation Sans, sans-serif" font-size="10.6" text-anchor="end" fill="#4d4d4d" font-weight="normal" font-style="normal" >25</text>
<line x1="211.40" y1="437.80" x2="214.10" y2="437.80" stroke="#222" stroke-width="1.0" />
<text x="208.30" y="461.30" font-family="Liberation Sans, sans-serif" font-size="10.6" text-anchor="end" fill="#4d4d4d" font-weight="normal" font-style="normal" >0</text>
<line x1="211.40" y1="456.00" x2="214.10" y2="456.00" stroke="#222" stroke-width="1.0" />
<line x1="220.50" y1="459.90" x2="220.50" y2="462.70" stroke="#222" stroke-width="1.0" />
<text x="222.70" y="471.80" font-family="Liberation Sans, sans-serif" font-size="10.6" text-anchor="middle" fill="#4d4d4d" font-weight="normal" font-style="normal" >0.000</text>
<line x1="251.30" y1="459.90" x2="251.30" y2="462.70" stroke="#222" stroke-width="1.0" />
<line x1="281.60" y1="459.90" x2="281.60" y2="462.70" stroke="#222" stroke-width="1.0" />
<text x="283.80" y="471.80" font-family="Liberation Sans, sans-serif" font-size="10.6" text-anchor="middle" fill="#4d4d4d" font-weight="normal" font-style="normal" >0.002</text>
<line x1="312.10" y1="459.90" x2="312.10" y2="462.70" stroke="#222" stroke-width="1.0" />
<line x1="342.60" y1="459.90" x2="342.60" y2="462.70" stroke="#222" stroke-width="1.0" />
<text x="344.80" y="471.80" font-family="Liberation Sans, sans-serif" font-size="10.6" text-anchor="middle" fill="#4d4d4d" font-weight="normal" font-style="normal" >0.004</text>
<text x="352.50" y="374.00" font-family="Liberation Serif, serif" font-size="16" text-anchor="start" fill="#000" font-weight="bold" font-style="normal" >h</text>
<text x="445.50" y="379.20" font-family="Liberation Sans, sans-serif" font-size="10.2" text-anchor="middle" fill="#111" font-weight="normal" font-style="normal" >Exon 1-3’</text>
<path d="M389.50,456.20 L389.50,454.69 L393.65,454.69 L393.65,451.67 L397.80,451.67 L397.80,444.12 L401.95,444.12 L401.95,427.51 L406.10,427.51 L406.10,429.02 L410.25,429.02 L410.25,391.27 L414.40,391.27 L414.40,402.59 L418.55,402.59 L418.55,391.27 L422.70,391.27 L422.70,389.00 L426.85,389.00 L426.85,401.84 L431.00,401.84 L431.00,407.88 L435.15,407.88 L435.15,415.43 L439.30,415.43 L439.30,438.08 L443.45,438.08 L443.45,427.06 L447.60,427.06 L447.60,445.93 L451.75,445.93 L451.75,441.10 L455.90,441.10 L455.90,439.14 L460.05,439.14 L460.05,451.67 L464.20,451.67 L464.20,454.69 L468.35,454.69 L468.35,450.16 L472.50,450.16 L472.50,453.18 L476.65,453.18 L476.65,456.20 Z" fill="#5bb48e"/>
<path d="M389.50,456.20 L389.50,456.20 L393.65,456.20 L393.65,454.69 L397.80,454.69 L397.80,448.65 L401.95,448.65 L401.95,447.14 L406.10,447.14 L406.10,447.14 L410.25,447.14 L410.25,438.83 L414.40,438.83 L414.40,435.81 L418.55,435.81 L418.55,432.79 L422.70,432.79 L422.70,429.02 L426.85,429.02 L426.85,440.04 L431.00,440.04 L431.00,439.14 L435.15,439.14 L435.15,448.65 L439.30,448.65 L439.30,448.65 L443.45,448.65 L443.45,444.12 L447.60,444.12 L447.60,453.18 L451.75,453.18 L451.75,450.91 L455.90,450.91 L455.90,442.01 L460.05,442.01 L460.05,452.43 L464.20,452.43 L464.20,454.69 L468.35,454.69 L468.35,454.69 L472.50,454.69 L472.50,454.69 L476.65,454.69 L476.65,456.20 Z" fill="#e2376f"/>
<path d="M389.50,456.20 L389.50,456.20 L393.65,456.20 L393.65,456.20 L397.80,456.20 L397.80,448.65 L401.95,448.65 L401.95,447.14 L406.10,447.14 L406.10,447.14 L410.25,447.14 L410.25,441.85 L414.40,441.85 L414.40,438.08 L418.55,438.08 L418.55,435.81 L422.70,435.81 L422.70,432.04 L426.85,432.04 L426.85,442.01 L431.00,442.01 L431.00,439.14 L435.15,439.14 L435.15,448.65 L439.30,448.65 L439.30,448.65 L443.45,448.65 L443.45,446.38 L447.60,446.38 L447.60,453.18 L451.75,453.18 L451.75,450.91 L455.90,450.91 L455.90,444.12 L460.05,444.12 L460.05,452.43 L464.20,452.43 L464.20,454.69 L468.35,454.69 L468.35,454.69 L472.50,454.69 L472.50,454.69 L476.65,454.69 L476.65,456.20 Z" fill="#4a73b8"/>
<path d="M389.50,456.20 L389.50,456.20 L393.65,456.20 L393.65,456.20 L397.80,456.20 L397.80,456.20 L401.95,456.20 L401.95,451.67 L406.10,451.67 L406.10,453.18 L410.25,453.18 L410.25,448.65 L414.40,448.65 L414.40,448.65 L418.55,448.65 L418.55,450.16 L422.70,450.16 L422.70,447.89 L426.85,447.89 L426.85,448.65 L431.00,448.65 L431.00,448.65 L435.15,448.65 L435.15,453.18 L439.30,453.18 L439.30,453.18 L443.45,453.18 L443.45,454.69 L447.60,454.69 L447.60,456.20 L451.75,456.20 L451.75,456.20 L455.90,456.20 L455.90,454.69 L460.05,454.69 L460.05,454.69 L464.20,454.69 L464.20,454.69 L468.35,454.69 L468.35,454.69 L472.50,454.69 L472.50,456.20 L476.65,456.20 L476.65,456.20 Z" fill="#f3a83b"/>
<path d="M389.50,456.20 L389.50,456.20 L393.65,456.20 L393.65,456.20 L397.80,456.20 L397.80,456.20 L401.95,456.20 L401.95,451.67 L406.10,451.67 L406.10,453.18 L410.25,453.18 L410.25,451.67 L414.40,451.67 L414.40,448.65 L418.55,448.65 L418.55,451.67 L422.70,451.67 L422.70,450.91 L426.85,450.91 L426.85,448.65 L431.00,448.65 L431.00,448.65 L435.15,448.65 L435.15,453.18 L439.30,453.18 L439.30,453.18 L443.45,453.18 L443.45,454.69 L447.60,454.69 L447.60,456.20 L451.75,456.20 L451.75,456.20 L455.90,456.20 L455.90,454.69 L460.05,454.69 L460.05,454.69 L464.20,454.69 L464.20,454.69 L468.35,454.69 L468.35,454.69 L472.50,454.69 L472.50,456.20 L476.65,456.20 L476.65,456.20 Z" fill="#8ccbea"/>
<path d="M389.50,456.20 L389.50,456.20 L393.65,456.20 L393.65,456.20 L397.80,456.20 L397.80,456.20 L401.95,456.20 L401.95,451.67 L406.10,451.67 L406.10,454.69 L410.25,454.69 L410.25,454.69 L414.40,454.69 L414.40,453.18 L418.55,453.18 L418.55,453.18 L422.70,453.18 L422.70,452.88 L426.85,452.88 L426.85,453.18 L431.00,453.18 L431.00,453.18 L435.15,453.18 L435.15,453.18 L439.30,453.18 L439.30,456.20 L443.45,456.20 L443.45,454.69 L447.60,454.69 L447.60,456.20 L451.75,456.20 L451.75,456.20 L455.90,456.20 L455.90,456.20 L460.05,456.20 L460.05,454.69 L464.20,454.69 L464.20,454.69 L468.35,454.69 L468.35,454.69 L472.50,454.69 L472.50,456.20 L476.65,456.20 L476.65,456.20 Z" fill="#1f3478"/>
<line x1="389.50" y1="456.20" x2="505.00" y2="456.20" stroke="#dfe6ea" stroke-width="0.8" />
<text x="370.40" y="401.00" font-family="Liberation Sans, sans-serif" font-size="10.6" text-anchor="end" fill="#4d4d4d" font-weight="normal" font-style="normal" >40</text>
<line x1="373.00" y1="395.70" x2="375.70" y2="395.70" stroke="#222" stroke-width="1.0" />
<text x="370.40" y="416.10" font-family="Liberation Sans, sans-serif" font-size="10.6" text-anchor="end" fill="#4d4d4d" font-weight="normal" font-style="normal" >30</text>
<line x1="373.00" y1="410.80" x2="375.70" y2="410.80" stroke="#222" stroke-width="1.0" />
<text x="370.40" y="431.20" font-family="Liberation Sans, sans-serif" font-size="10.6" text-anchor="end" fill="#4d4d4d" font-weight="normal" font-style="normal" >20</text>
<line x1="373.00" y1="425.90" x2="375.70" y2="425.90" stroke="#222" stroke-width="1.0" />
<text x="370.40" y="446.40" font-family="Liberation Sans, sans-serif" font-size="10.6" text-anchor="end" fill="#4d4d4d" font-weight="normal" font-style="normal" >10</text>
<line x1="373.00" y1="441.10" x2="375.70" y2="441.10" stroke="#222" stroke-width="1.0" />
<text x="370.40" y="461.50" font-family="Liberation Sans, sans-serif" font-size="10.6" text-anchor="end" fill="#4d4d4d" font-weight="normal" font-style="normal" >0</text>
<line x1="373.00" y1="456.20" x2="375.70" y2="456.20" stroke="#222" stroke-width="1.0" />
<line x1="383.20" y1="459.90" x2="383.20" y2="462.70" stroke="#222" stroke-width="1.0" />
<text x="385.40" y="471.80" font-family="Liberation Sans, sans-serif" font-size="10.6" text-anchor="middle" fill="#4d4d4d" font-weight="normal" font-style="normal" >0.000</text>
<line x1="413.90" y1="459.90" x2="413.90" y2="462.70" stroke="#222" stroke-width="1.0" />
<line x1="444.20" y1="459.90" x2="444.20" y2="462.70" stroke="#222" stroke-width="1.0" />
<text x="446.40" y="471.80" font-family="Liberation Sans, sans-serif" font-size="10.6" text-anchor="middle" fill="#4d4d4d" font-weight="normal" font-style="normal" >0.002</text>
<line x1="474.80" y1="459.90" x2="474.80" y2="462.70" stroke="#222" stroke-width="1.0" />
<line x1="505.30" y1="459.90" x2="505.30" y2="462.70" stroke="#222" stroke-width="1.0" />
<text x="507.50" y="471.80" font-family="Liberation Sans, sans-serif" font-size="10.6" text-anchor="middle" fill="#4d4d4d" font-weight="normal" font-style="normal" >0.004</text>
<text x="515.20" y="373.90" font-family="Liberation Serif, serif" font-size="16" text-anchor="start" fill="#000" font-weight="bold" font-style="normal" >i</text>
<text x="602.60" y="379.20" font-family="Liberation Sans, sans-serif" font-size="10.2" text-anchor="middle" fill="#111" font-weight="normal" font-style="normal" >Intron 1</text>
<path d="M548.00,455.90 L548.00,454.26 L552.15,454.26 L552.15,455.90 L556.30,455.90 L556.30,455.90 L560.45,455.90 L560.45,453.69 L564.60,453.69 L564.60,451.24 L568.75,451.24 L568.75,441.01 L572.90,441.01 L572.90,414.67 L577.05,414.67 L577.05,410.91 L581.20,410.91 L581.20,388.99 L585.35,388.99 L585.35,400.11 L589.50,400.11 L589.50,412.14 L593.65,412.14 L593.65,439.13 L597.80,439.13 L597.80,445.02 L601.95,445.02 L601.95,451.81 L606.10,451.81 L606.10,451.81 L610.25,451.81 L610.25,455.90 L614.40,455.90 L614.40,455.90 L618.55,455.90 L618.55,455.90 L622.70,455.90 L622.70,455.90 L626.85,455.90 L626.85,455.90 L631.00,455.90 L631.00,455.90 L635.15,455.90 L635.15,455.90 L639.30,455.90 L639.30,455.90 L643.45,455.90 L643.45,455.90 L647.60,455.90 L647.60,455.08 L651.75,455.08 L651.75,455.90 Z" fill="#8ccbea"/>
<line x1="548.00" y1="455.90" x2="665.00" y2="455.90" stroke="#dfe6ea" stroke-width="0.8" />
<text x="531.20" y="395.80" font-family="Liberation Sans, sans-serif" font-size="10.6" text-anchor="end" fill="#4d4d4d" font-weight="normal" font-style="normal" >80</text>
<line x1="536.30" y1="390.50" x2="539.00" y2="390.50" stroke="#222" stroke-width="1.0" />
<text x="531.20" y="412.20" font-family="Liberation Sans, sans-serif" font-size="10.6" text-anchor="end" fill="#4d4d4d" font-weight="normal" font-style="normal" >60</text>
<line x1="536.30" y1="406.90" x2="539.00" y2="406.90" stroke="#222" stroke-width="1.0" />
<text x="531.20" y="428.50" font-family="Liberation Sans, sans-serif" font-size="10.6" text-anchor="end" fill="#4d4d4d" font-weight="normal" font-style="normal" >40</text>
<line x1="536.30" y1="423.20" x2="539.00" y2="423.20" stroke="#222" stroke-width="1.0" />
<text x="531.20" y="444.90" font-family="Liberation Sans, sans-serif" font-size="10.6" text-anchor="end" fill="#4d4d4d" font-weight="normal" font-style="normal" >20</text>
<line x1="536.30" y1="439.60" x2="539.00" y2="439.60" stroke="#222" stroke-width="1.0" />
<text x="531.20" y="461.20" font-family="Liberation Sans, sans-serif" font-size="10.6" text-anchor="end" fill="#4d4d4d" font-weight="normal" font-style="normal" >0</text>
<line x1="536.30" y1="455.90" x2="539.00" y2="455.90" stroke="#222" stroke-width="1.0" />
<line x1="545.50" y1="459.90" x2="545.50" y2="462.70" stroke="#222" stroke-width="1.0" />
<text x="547.70" y="471.80" font-family="Liberation Sans, sans-serif" font-size="10.6" text-anchor="middle" fill="#4d4d4d" font-weight="normal" font-style="normal" >0.000</text>
<line x1="576.20" y1="459.90" x2="576.20" y2="462.70" stroke="#222" stroke-width="1.0" />
<line x1="606.60" y1="459.90" x2="606.60" y2="462.70" stroke="#222" stroke-width="1.0" />
<text x="608.80" y="471.80" font-family="Liberation Sans, sans-serif" font-size="10.6" text-anchor="middle" fill="#4d4d4d" font-weight="normal" font-style="normal" >0.002</text>
<line x1="637.10" y1="459.90" x2="637.10" y2="462.70" stroke="#222" stroke-width="1.0" />
<line x1="667.60" y1="459.90" x2="667.60" y2="462.70" stroke="#222" stroke-width="1.0" />
<text x="669.80" y="471.80" font-family="Liberation Sans, sans-serif" font-size="10.6" text-anchor="middle" fill="#4d4d4d" font-weight="normal" font-style="normal" >0.004</text>
<text x="0.00" y="0.00" font-family="Liberation Sans, sans-serif" font-size="10.6" text-anchor="middle" fill="#000" font-weight="normal" font-style="normal" transform="translate(28.9,465.5) rotate(-90)">Variants</text>
<text x="1.80" y="503.30" font-family="Liberation Serif, serif" font-size="16" text-anchor="start" fill="#000" font-weight="bold" font-style="normal" >j</text>
<text x="118.20" y="505.90" font-family="Liberation Sans, sans-serif" font-size="10.2" text-anchor="middle" fill="#111" font-weight="normal" font-style="normal" >Exon 2</text>
<path d="M73.20,582.20 L73.20,581.63 L77.35,581.63 L77.35,580.78 L81.50,580.78 L81.50,572.83 L85.65,572.83 L85.65,556.07 L89.80,556.07 L89.80,535.62 L93.95,535.62 L93.95,515.46 L98.10,515.46 L98.10,540.17 L102.25,540.17 L102.25,556.64 L106.40,556.64 L106.40,564.59 L110.55,564.59 L110.55,576.80 L114.70,576.80 L114.70,582.20 L118.85,582.20 L118.85,581.80 L123.00,581.80 L123.00,582.20 Z" fill="#5bb48e"/>
<path d="M73.20,582.20 L73.20,581.63 L77.35,581.63 L77.35,580.78 L81.50,580.78 L81.50,577.09 L85.65,577.09 L85.65,569.70 L89.80,569.70 L89.80,564.02 L93.95,564.02 L93.95,554.94 L98.10,554.94 L98.10,567.43 L102.25,567.43 L102.25,576.52 L106.40,576.52 L106.40,576.52 L110.55,576.52 L110.55,579.36 L114.70,579.36 L114.70,582.20 L118.85,582.20 L118.85,581.80 L123.00,581.80 L123.00,582.20 Z" fill="#e2376f"/>
<path d="M73.20,582.20 L73.20,581.63 L77.35,581.63 L77.35,580.78 L81.50,580.78 L81.50,577.09 L85.65,577.09 L85.65,571.41 L89.80,571.41 L89.80,565.73 L93.95,565.73 L93.95,557.21 L98.10,557.21 L98.10,569.14 L102.25,569.14 L102.25,576.52 L106.40,576.52 L106.40,577.66 L110.55,577.66 L110.55,579.36 L114.70,579.36 L114.70,582.20 L118.85,582.20 L118.85,581.80 L123.00,581.80 L123.00,582.20 Z" fill="#4a73b8"/>
<path d="M73.20,582.20 L73.20,582.20 L77.35,582.20 L77.35,581.63 L81.50,581.63 L81.50,579.36 L85.65,579.36 L85.65,574.25 L89.80,574.25 L89.80,573.68 L93.95,573.68 L93.95,571.41 L98.10,571.41 L98.10,575.38 L102.25,575.38 L102.25,578.22 L106.40,578.22 L106.40,579.36 L110.55,579.36 L110.55,580.50 L114.70,580.50 L114.70,582.20 L118.85,582.20 L118.85,581.80 L123.00,581.80 L123.00,582.20 Z" fill="#f3a83b"/>
<path d="M73.20,582.20 L73.20,582.20 L77.35,582.20 L77.35,581.63 L81.50,581.63 L81.50,579.36 L85.65,579.36 L85.65,576.52 L89.80,576.52 L89.80,575.38 L93.95,575.38 L93.95,574.25 L98.10,574.25 L98.10,575.38 L102.25,575.38 L102.25,578.22 L106.40,578.22 L106.40,579.36 L110.55,579.36 L110.55,580.50 L114.70,580.50 L114.70,582.20 L118.85,582.20 L118.85,581.80 L123.00,581.80 L123.00,582.20 Z" fill="#8ccbea"/>
<path d="M73.20,582.20 L73.20,582.20 L77.35,582.20 L77.35,582.20 L81.50,582.20 L81.50,581.06 L85.65,581.06 L85.65,579.36 L89.80,579.36 L89.80,575.95 L93.95,575.95 L93.95,574.82 L98.10,574.82 L98.10,576.52 L102.25,576.52 L102.25,578.22 L106.40,578.22 L106.40,579.36 L110.55,579.36 L110.55,580.50 L114.70,580.50 L114.70,582.20 L118.85,582.20 L118.85,582.20 L123.00,582.20 L123.00,582.20 Z" fill="#1f3478"/>
<line x1="59.80" y1="582.00" x2="179.00" y2="582.00" stroke="#dfe6ea" stroke-width="0.8" />
<text x="44.70" y="519.30" font-family="Liberation Sans, sans-serif" font-size="10.6" text-anchor="end" fill="#4d4d4d" font-weight="normal" font-style="normal" >120</text>
<line x1="48.60" y1="514.00" x2="51.30" y2="514.00" stroke="#222" stroke-width="1.0" />
<text x="44.70" y="536.40" font-family="Liberation Sans, sans-serif" font-size="10.6" text-anchor="end" fill="#4d4d4d" font-weight="normal" font-style="normal" >90</text>
<line x1="48.60" y1="531.10" x2="51.30" y2="531.10" stroke="#222" stroke-width="1.0" />
<text x="44.70" y="553.40" font-family="Liberation Sans, sans-serif" font-size="10.6" text-anchor="end" fill="#4d4d4d" font-weight="normal" font-style="normal" >60</text>
<line x1="48.60" y1="548.10" x2="51.30" y2="548.10" stroke="#222" stroke-width="1.0" />
<text x="44.70" y="570.40" font-family="Liberation Sans, sans-serif" font-size="10.6" text-anchor="end" fill="#4d4d4d" font-weight="normal" font-style="normal" >30</text>
<line x1="48.60" y1="565.10" x2="51.30" y2="565.10" stroke="#222" stroke-width="1.0" />
<text x="44.70" y="587.50" font-family="Liberation Sans, sans-serif" font-size="10.6" text-anchor="end" fill="#4d4d4d" font-weight="normal" font-style="normal" >0</text>
<line x1="48.60" y1="582.20" x2="51.30" y2="582.20" stroke="#222" stroke-width="1.0" />
<line x1="58.00" y1="586.10" x2="58.00" y2="588.90" stroke="#222" stroke-width="1.0" />
<text x="60.20" y="598.50" font-family="Liberation Sans, sans-serif" font-size="10.6" text-anchor="middle" fill="#4d4d4d" font-weight="normal" font-style="normal" >0.000</text>
<line x1="88.80" y1="586.10" x2="88.80" y2="588.90" stroke="#222" stroke-width="1.0" />
<line x1="119.40" y1="586.10" x2="119.40" y2="588.90" stroke="#222" stroke-width="1.0" />
<text x="121.60" y="598.50" font-family="Liberation Sans, sans-serif" font-size="10.6" text-anchor="middle" fill="#4d4d4d" font-weight="normal" font-style="normal" >0.002</text>
<line x1="149.90" y1="586.10" x2="149.90" y2="588.90" stroke="#222" stroke-width="1.0" />
<line x1="180.20" y1="586.10" x2="180.20" y2="588.90" stroke="#222" stroke-width="1.0" />
<text x="182.40" y="598.50" font-family="Liberation Sans, sans-serif" font-size="10.6" text-anchor="middle" fill="#4d4d4d" font-weight="normal" font-style="normal" >0.004</text>
<text x="189.30" y="504.20" font-family="Liberation Serif, serif" font-size="16" text-anchor="start" fill="#000" font-weight="bold" font-style="normal" >k</text>
<text x="283.00" y="505.90" font-family="Liberation Sans, sans-serif" font-size="10.2" text-anchor="middle" fill="#111" font-weight="normal" font-style="normal" >Exon 3-5’</text>
<path d="M244.20,582.20 L244.20,579.02 L248.35,579.02 L248.35,579.96 L252.50,579.96 L252.50,569.04 L256.65,569.04 L256.65,564.14 L260.80,564.14 L260.80,545.82 L264.95,545.82 L264.95,515.55 L269.10,515.55 L269.10,519.42 L273.25,519.42 L273.25,531.20 L277.40,531.20 L277.40,556.66 L281.55,556.66 L281.55,566.20 L285.70,566.20 L285.70,566.20 L289.85,566.20 L289.85,577.04 L294.00,577.04 L294.00,581.34 L298.15,581.34 L298.15,582.20 Z" fill="#5bb48e"/>
<path d="M244.20,582.20 L244.20,579.02 L248.35,579.02 L248.35,579.96 L252.50,579.96 L252.50,574.89 L256.65,574.89 L256.65,574.63 L260.80,574.63 L260.80,565.86 L264.95,565.86 L264.95,550.81 L269.10,550.81 L269.10,559.84 L273.25,559.84 L273.25,561.56 L277.40,561.56 L277.40,569.73 L281.55,569.73 L281.55,574.46 L285.70,574.46 L285.70,573.17 L289.85,573.17 L289.85,582.20 L294.00,582.20 L294.00,581.34 L298.15,581.34 L298.15,582.20 Z" fill="#e2376f"/>
<path d="M244.20,582.20 L244.20,579.02 L248.35,579.02 L248.35,579.96 L252.50,579.96 L252.50,574.89 L256.65,574.89 L256.65,577.47 L260.80,577.47 L260.80,565.86 L264.95,565.86 L264.95,555.54 L269.10,555.54 L269.10,559.84 L273.25,559.84 L273.25,561.56 L277.40,561.56 L277.40,574.03 L281.55,574.03 L281.55,574.46 L285.70,574.46 L285.70,577.04 L289.85,577.04 L289.85,582.20 L294.00,582.20 L294.00,581.34 L298.15,581.34 L298.15,582.20 Z" fill="#4a73b8"/>
<path d="M244.20,582.20 L244.20,579.02 L248.35,579.02 L248.35,581.34 L252.50,581.34 L252.50,578.76 L256.65,578.76 L256.65,579.62 L260.80,579.62 L260.80,575.32 L264.95,575.32 L264.95,569.30 L269.10,569.30 L269.10,568.44 L273.25,568.44 L273.25,569.30 L277.40,569.30 L277.40,576.18 L281.55,576.18 L281.55,577.90 L285.70,577.90 L285.70,579.62 L289.85,579.62 L289.85,582.20 L294.00,582.20 L294.00,581.34 L298.15,581.34 L298.15,582.20 Z" fill="#8ccbea"/>
<path d="M244.20,582.20 L244.20,582.20 L248.35,582.20 L248.35,581.34 L252.50,581.34 L252.50,582.20 L256.65,582.20 L256.65,582.20 L260.80,582.20 L260.80,581.34 L264.95,581.34 L264.95,577.90 L269.10,577.90 L269.10,578.76 L273.25,578.76 L273.25,579.62 L277.40,579.62 L277.40,581.34 L281.55,581.34 L281.55,582.20 L285.70,582.20 L285.70,582.20 L289.85,582.20 L289.85,582.20 L294.00,582.20 L294.00,582.20 L298.15,582.20 L298.15,582.20 Z" fill="#1f3478"/>
<path d="M244.20,582.20 L244.20,582.20 L248.35,582.20 L248.35,581.34 L252.50,581.34 L252.50,582.20 L256.65,582.20 L256.65,582.20 L260.80,582.20 L260.80,582.20 L264.95,582.20 L264.95,582.20 L269.10,582.20 L269.10,582.20 L273.25,582.20 L273.25,582.20 L277.40,582.20 L277.40,582.20 L281.55,582.20 L281.55,582.20 L285.70,582.20 L285.70,582.20 L289.85,582.20 L289.85,582.20 L294.00,582.20 L294.00,582.20 L298.15,582.20 L298.15,582.20 Z" fill="#8c3f92"/>
<line x1="222.50" y1="582.00" x2="341.00" y2="582.00" stroke="#dfe6ea" stroke-width="0.8" />
<text x="207.00" y="518.70" font-family="Liberation Sans, sans-serif" font-size="10.6" text-anchor="end" fill="#4d4d4d" font-weight="normal" font-style="normal" >80</text>
<line x1="210.60" y1="513.40" x2="213.30" y2="513.40" stroke="#222" stroke-width="1.0" />
<text x="207.00" y="535.90" font-family="Liberation Sans, sans-serif" font-size="10.6" text-anchor="end" fill="#4d4d4d" font-weight="normal" font-style="normal" >60</text>
<line x1="210.60" y1="530.60" x2="213.30" y2="530.60" stroke="#222" stroke-width="1.0" />
<text x="207.00" y="553.10" font-family="Liberation Sans, sans-serif" font-size="10.6" text-anchor="end" fill="#4d4d4d" font-weight="normal" font-style="normal" >40</text>
<line x1="210.60" y1="547.80" x2="213.30" y2="547.80" stroke="#222" stroke-width="1.0" />
<text x="207.00" y="570.30" font-family="Liberation Sans, sans-serif" font-size="10.6" text-anchor="end" fill="#4d4d4d" font-weight="normal" font-style="normal" >20</text>
<line x1="210.60" y1="565.00" x2="213.30" y2="565.00" stroke="#222" stroke-width="1.0" />
<text x="207.00" y="587.50" font-family="Liberation Sans, sans-serif" font-size="10.6" text-anchor="end" fill="#4d4d4d" font-weight="normal" font-style="normal" >0</text>
<line x1="210.60" y1="582.20" x2="213.30" y2="582.20" stroke="#222" stroke-width="1.0" />
<line x1="220.50" y1="586.10" x2="220.50" y2="588.90" stroke="#222" stroke-width="1.0" />
<text x="222.70" y="598.50" font-family="Liberation Sans, sans-serif" font-size="10.6" text-anchor="middle" fill="#4d4d4d" font-weight="normal" font-style="normal" >0.000</text>
<line x1="251.30" y1="586.10" x2="251.30" y2="588.90" stroke="#222" stroke-width="1.0" />
<line x1="281.60" y1="586.10" x2="281.60" y2="588.90" stroke="#222" stroke-width="1.0" />
<text x="283.80" y="598.50" font-family="Liberation Sans, sans-serif" font-size="10.6" text-anchor="middle" fill="#4d4d4d" font-weight="normal" font-style="normal" >0.002</text>
<line x1="312.10" y1="586.10" x2="312.10" y2="588.90" stroke="#222" stroke-width="1.0" />
<line x1="342.60" y1="586.10" x2="342.60" y2="588.90" stroke="#222" stroke-width="1.0" />
<text x="344.80" y="598.50" font-family="Liberation Sans, sans-serif" font-size="10.6" text-anchor="middle" fill="#4d4d4d" font-weight="normal" font-style="normal" >0.004</text>
<text x="352.50" y="504.20" font-family="Liberation Serif, serif" font-size="16" text-anchor="start" fill="#000" font-weight="bold" font-style="normal" >l</text>
<text x="445.50" y="505.90" font-family="Liberation Sans, sans-serif" font-size="10.2" text-anchor="middle" fill="#111" font-weight="normal" font-style="normal" >Exon 3-3’</text>
<path d="M398.20,582.20 L398.20,580.34 L402.35,580.34 L402.35,579.04 L406.50,579.04 L406.50,575.32 L410.65,575.32 L410.65,561.74 L414.80,561.74 L414.80,543.14 L418.95,543.14 L418.95,515.71 L423.10,515.71 L423.10,527.61 L427.25,527.61 L427.25,534.12 L431.40,534.12 L431.40,546.40 L435.55,546.40 L435.55,556.62 L439.70,556.62 L439.70,562.21 L443.85,562.21 L443.85,566.86 L448.00,566.86 L448.00,575.97 L452.15,575.97 L452.15,578.11 L456.30,578.11 L456.30,580.81 L460.45,580.81 L460.45,579.69 L464.60,579.69 L464.60,582.20 L468.75,582.20 L468.75,581.27 L472.90,581.27 L472.90,581.55 L477.05,581.55 L477.05,582.20 Z" fill="#5bb48e"/>
<path d="M398.20,582.20 L398.20,580.34 L402.35,580.34 L402.35,580.34 L406.50,580.34 L406.50,576.62 L410.65,576.62 L410.65,571.04 L414.80,571.04 L414.80,563.60 L418.95,563.60 L418.95,547.33 L423.10,547.33 L423.10,557.83 L427.25,557.83 L427.25,560.62 L431.40,560.62 L431.40,562.67 L435.55,562.67 L435.55,570.58 L439.70,570.58 L439.70,572.44 L443.85,572.44 L443.85,572.44 L448.00,572.44 L448.00,579.97 L452.15,579.97 L452.15,579.97 L456.30,579.97 L456.30,582.20 L460.45,582.20 L460.45,582.20 L464.60,582.20 L464.60,582.20 L468.75,582.20 L468.75,582.20 L472.90,582.20 L472.90,582.20 L477.05,582.20 L477.05,582.20 Z" fill="#e2376f"/>
<path d="M398.20,582.20 L398.20,580.34 L402.35,580.34 L402.35,580.34 L406.50,580.34 L406.50,576.62 L410.65,576.62 L410.65,573.83 L414.80,573.83 L414.80,563.60 L418.95,563.60 L418.95,551.98 L423.10,551.98 L423.10,559.69 L427.25,559.69 L427.25,562.95 L431.40,562.95 L431.40,563.60 L435.55,563.60 L435.55,570.58 L439.70,570.58 L439.70,572.44 L443.85,572.44 L443.85,572.44 L448.00,572.44 L448.00,579.97 L452.15,579.97 L452.15,579.97 L456.30,579.97 L456.30,582.20 L460.45,582.20 L460.45,582.20 L464.60,582.20 L464.60,582.20 L468.75,582.20 L468.75,582.20 L472.90,582.20 L472.90,582.20 L477.05,582.20 L477.05,582.20 Z" fill="#4a73b8"/>
<path d="M398.20,582.20 L398.20,580.34 L402.35,580.34 L402.35,580.34 L406.50,580.34 L406.50,579.41 L410.65,579.41 L410.65,576.62 L414.80,576.62 L414.80,571.04 L418.95,571.04 L418.95,563.60 L423.10,563.60 L423.10,567.60 L427.25,567.60 L427.25,567.60 L431.40,567.60 L431.40,571.04 L435.55,571.04 L435.55,571.97 L439.70,571.97 L439.70,577.83 L443.85,577.83 L443.85,577.83 L448.00,577.83 L448.00,579.97 L452.15,579.97 L452.15,579.97 L456.30,579.97 L456.30,582.20 L460.45,582.20 L460.45,582.20 L464.60,582.20 L464.60,582.20 L468.75,582.20 L468.75,582.20 L472.90,582.20 L472.90,582.20 L477.05,582.20 L477.05,582.20 Z" fill="#d193c8"/>
<path d="M398.20,582.20 L398.20,581.27 L402.35,581.27 L402.35,582.20 L406.50,582.20 L406.50,582.20 L410.65,582.20 L410.65,582.20 L414.80,582.20 L414.80,581.27 L418.95,581.27 L418.95,580.34 L423.10,580.34 L423.10,580.34 L427.25,580.34 L427.25,580.34 L431.40,580.34 L431.40,581.27 L435.55,581.27 L435.55,580.34 L439.70,580.34 L439.70,581.27 L443.85,581.27 L443.85,581.27 L448.00,581.27 L448.00,581.27 L452.15,581.27 L452.15,582.20 L456.30,582.20 L456.30,582.20 L460.45,582.20 L460.45,582.20 L464.60,582.20 L464.60,582.20 L468.75,582.20 L468.75,582.20 L472.90,582.20 L472.90,582.20 L477.05,582.20 L477.05,582.20 Z" fill="#8c3f92"/>
<line x1="383.50" y1="582.00" x2="505.00" y2="582.00" stroke="#dfe6ea" stroke-width="0.8" />
<text x="369.60" y="531.80" font-family="Liberation Sans, sans-serif" font-size="10.6" text-anchor="end" fill="#4d4d4d" font-weight="normal" font-style="normal" >60</text>
<line x1="372.60" y1="526.50" x2="375.30" y2="526.50" stroke="#222" stroke-width="1.0" />
<text x="369.60" y="550.40" font-family="Liberation Sans, sans-serif" font-size="10.6" text-anchor="end" fill="#4d4d4d" font-weight="normal" font-style="normal" >40</text>
<line x1="372.60" y1="545.10" x2="375.30" y2="545.10" stroke="#222" stroke-width="1.0" />
<text x="369.60" y="569.00" font-family="Liberation Sans, sans-serif" font-size="10.6" text-anchor="end" fill="#4d4d4d" font-weight="normal" font-style="normal" >20</text>
<line x1="372.60" y1="563.70" x2="375.30" y2="563.70" stroke="#222" stroke-width="1.0" />
<text x="369.60" y="587.50" font-family="Liberation Sans, sans-serif" font-size="10.6" text-anchor="end" fill="#4d4d4d" font-weight="normal" font-style="normal" >0</text>
<line x1="372.60" y1="582.20" x2="375.30" y2="582.20" stroke="#222" stroke-width="1.0" />
<line x1="383.20" y1="586.10" x2="383.20" y2="588.90" stroke="#222" stroke-width="1.0" />
<text x="385.40" y="598.50" font-family="Liberation Sans, sans-serif" font-size="10.6" text-anchor="middle" fill="#4d4d4d" font-weight="normal" font-style="normal" >0.000</text>
<line x1="413.90" y1="586.10" x2="413.90" y2="588.90" stroke="#222" stroke-width="1.0" />
<line x1="444.20" y1="586.10" x2="444.20" y2="588.90" stroke="#222" stroke-width="1.0" />
<text x="446.40" y="598.50" font-family="Liberation Sans, sans-serif" font-size="10.6" text-anchor="middle" fill="#4d4d4d" font-weight="normal" font-style="normal" >0.002</text>
<line x1="474.80" y1="586.10" x2="474.80" y2="588.90" stroke="#222" stroke-width="1.0" />
<line x1="505.30" y1="586.10" x2="505.30" y2="588.90" stroke="#222" stroke-width="1.0" />
<text x="507.50" y="598.50" font-family="Liberation Sans, sans-serif" font-size="10.6" text-anchor="middle" fill="#4d4d4d" font-weight="normal" font-style="normal" >0.004</text>
<text x="347.40" y="613.90" font-family="Liberation Sans, sans-serif" font-size="10.7" text-anchor="middle" fill="#000" font-weight="normal" font-style="normal" >Variant freq.</text>
</svg></body></html>
